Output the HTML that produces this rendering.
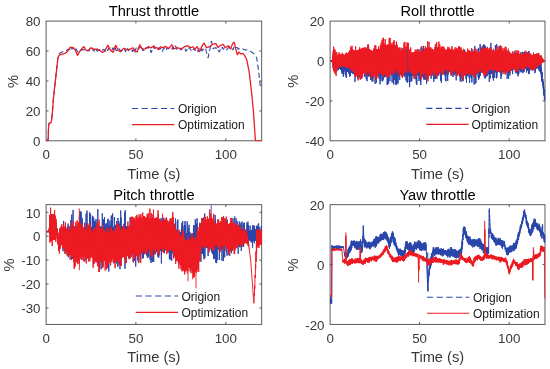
<!DOCTYPE html>
<html><head><meta charset="utf-8"><title>Throttle comparison</title>
<style>
html,body{margin:0;padding:0;background:#fff;}
svg{display:block;}
text{font-family:"Liberation Sans",Arial,Helvetica,sans-serif;}
.tk{font-size:13.33px;fill:#383838;}
.lg{font-size:12px;fill:#1a1a1a;}
.tt{font-size:14.67px;fill:#000;}
.lb{font-size:14.67px;fill:#383838;}
</style></head><body>
<svg width="550" height="369" viewBox="0 0 550 369">
<rect width="550" height="369" fill="#fff"/>
<clipPath id="c1"><rect x="46.1" y="20.6" width="216.2" height="120.7"/></clipPath>
<path d="M135.9,140.8v-2.4M135.9,21.1v2.4M225.8,140.8v-2.4M225.8,21.1v2.4M46.1,110.9h2.4M261.7,110.9h-2.4M46.1,81.0h2.4M261.7,81.0h-2.4M46.1,51.0h2.4M261.7,51.0h-2.4" stroke="#4a4a4a" stroke-width="0.9" fill="none"/>
<rect x="46.1" y="21.1" width="215.6" height="119.7" fill="none" stroke="#4a4a4a" stroke-width="0.9"/>
<text x="46.1" y="159.4" text-anchor="middle" class="tk">0</text>
<text x="135.9" y="159.4" text-anchor="middle" class="tk">50</text>
<text x="225.8" y="159.4" text-anchor="middle" class="tk">100</text>
<text x="40.5" y="146.0" text-anchor="end" class="tk">0</text>
<text x="40.5" y="116.1" text-anchor="end" class="tk">20</text>
<text x="40.5" y="86.2" text-anchor="end" class="tk">40</text>
<text x="40.5" y="56.2" text-anchor="end" class="tk">60</text>
<text x="40.5" y="26.3" text-anchor="end" class="tk">80</text>
<text x="153.9" y="16.1" text-anchor="middle" class="tt">Thrust throttle</text>
<text x="153.9" y="178.8" text-anchor="middle" class="lb">Time (s)</text>
<text transform="translate(18.2,81.4) rotate(-90)" text-anchor="middle" class="lb">%</text>
<path d="M46.10,140.80L46.25,140.80L46.40,140.80L46.55,140.80L46.70,140.80L46.85,140.80L47.00,140.80L47.15,140.80L47.30,140.80L47.45,140.80L47.60,140.80L47.75,140.80L47.90,140.71L48.05,139.95L48.20,137.70L48.35,133.75L48.50,129.22L48.65,125.78L48.80,124.08L48.94,123.57L49.09,123.43L49.24,123.28L49.39,123.14L49.54,123.00L49.69,122.89L49.84,122.82L49.99,122.78L50.14,122.75L50.29,122.72L50.44,122.69L50.59,122.66L50.74,122.63L50.89,122.57L51.04,122.37L51.19,121.91L51.34,121.17L51.49,120.27L51.64,119.32L51.79,118.34L51.94,117.21L52.09,115.80L52.24,114.08L52.39,112.18L52.54,110.24L52.69,108.29L52.84,106.34L52.99,104.39L53.14,102.44L53.29,100.53L53.44,98.74L53.59,97.12L53.74,95.64L53.89,94.23L54.04,92.83L54.19,91.44L54.33,90.06L54.48,88.69L54.63,87.33L54.78,85.96L54.93,84.60L55.08,83.23L55.23,81.86L55.38,80.50L55.53,79.13L55.68,77.77L55.83,76.40L55.98,75.04L56.13,73.67L56.28,72.31L56.43,70.94L56.58,69.57L56.73,68.21L56.88,66.84L57.03,65.48L57.18,64.11L57.33,62.75L57.48,61.38L57.63,60.01L57.78,58.71L57.93,57.62L58.08,56.82L58.23,56.28L58.38,55.85L58.53,55.43L58.68,55.02L58.83,54.61L58.98,54.26L59.13,53.99L59.28,53.80L59.43,53.65L59.58,53.51L59.72,53.37L59.87,53.23L60.02,53.09L60.17,52.95L60.32,52.82L60.47,52.71L60.62,52.62L60.77,52.56L60.92,52.50L61.07,52.45L61.22,52.39L61.37,52.33L61.52,52.28L61.67,52.22L61.82,52.17L61.97,52.11L62.12,52.05L62.27,52.00L62.42,51.94L62.57,51.89L62.72,51.83L62.87,51.77L63.02,51.72L63.17,51.66L63.32,51.60L63.47,51.55L63.62,51.49L63.77,51.44L63.92,51.38L64.07,51.32L64.22,51.26L64.37,51.19L64.52,51.13L64.67,51.07L64.82,51.02L64.97,50.96L65.11,50.90L65.26,50.84L65.41,50.79L65.56,50.73L65.71,50.66L65.86,50.60L66.01,50.57L66.16,50.57L66.31,50.58L66.46,50.59L66.61,50.56L66.76,50.47L66.91,50.33L67.06,50.15L67.21,49.95L67.36,49.75L67.51,49.58L67.66,49.47L67.81,49.40L67.96,49.39L68.11,49.45L68.26,49.54L68.41,49.63L68.56,49.68L68.71,49.71L68.86,49.72L69.01,49.73L69.16,49.72L69.31,49.67L69.46,49.59L69.61,49.50L69.76,49.37L69.91,49.20L70.06,48.93L70.21,48.51L70.36,48.00L70.50,47.51L70.65,47.15L70.80,46.96L70.95,46.93L71.10,47.02L71.25,47.27L71.40,47.69L71.55,48.14L71.70,48.55L71.85,48.87L72.00,49.05L72.15,49.08L72.30,48.99L72.45,48.84L72.60,48.59L72.75,48.22L72.90,47.82L73.05,47.53L73.20,47.44L73.35,47.58L73.50,47.94L73.65,48.48L73.80,49.05L73.95,49.47L74.10,49.78L74.25,50.02L74.40,50.21L74.55,50.31L74.70,50.35L74.85,50.38L75.00,50.43L75.15,50.44L75.30,50.30L75.45,50.00L75.60,49.60L75.75,49.19L75.89,48.90L76.04,48.87L76.19,49.08L76.34,49.40L76.49,49.78L76.64,50.15L76.79,50.47L76.94,50.72L77.09,50.89L77.24,50.98L77.39,51.10L77.54,51.31L77.69,51.58L77.84,51.86L77.99,52.11L78.14,52.27L78.29,52.30L78.44,52.20L78.59,51.95L78.74,51.63L78.89,51.35L79.04,51.16L79.19,51.10L79.34,51.15L79.49,51.29L79.64,51.46L79.79,51.56L79.94,51.55L80.09,51.45L80.24,51.31L80.39,51.13L80.54,50.95L80.69,50.81L80.84,50.69L80.99,50.60L81.14,50.54L81.28,50.48L81.43,50.40L81.58,50.28L81.73,50.12L81.88,49.92L82.03,49.79L82.18,49.72L82.33,49.67L82.48,49.64L82.63,49.61L82.78,49.60L82.93,49.60L83.08,49.60L83.23,49.58L83.38,49.55L83.53,49.55L83.68,49.58L83.83,49.63L83.98,49.72L84.13,49.82L84.28,49.91L84.43,50.00L84.58,50.15L84.73,50.36L84.88,50.62L85.03,50.92L85.18,51.21L85.33,51.40L85.48,51.47L85.63,51.43L85.78,51.28L85.93,51.12L86.08,50.97L86.23,50.80L86.38,50.67L86.53,50.59L86.67,50.50L86.82,50.44L86.97,50.43L87.12,50.41L87.27,50.39L87.42,50.38L87.57,50.40L87.72,50.41L87.87,50.42L88.02,50.37L88.17,50.28L88.32,50.27L88.47,50.35L88.62,50.51L88.77,50.73L88.92,50.90L89.07,50.93L89.22,50.82L89.37,50.57L89.52,50.24L89.67,49.88L89.82,49.50L89.97,49.12L90.12,48.84L90.27,48.71L90.42,48.73L90.57,48.87L90.72,49.09L90.87,49.34L91.02,49.56L91.17,49.70L91.32,49.73L91.47,49.62L91.62,49.36L91.77,48.96L91.91,48.54L92.06,48.23L92.21,48.11L92.36,48.18L92.51,48.44L92.66,48.84L92.81,49.34L92.96,49.85L93.11,50.26L93.26,50.52L93.41,50.64L93.56,50.66L93.71,50.61L93.86,50.55L94.01,50.59L94.16,50.70L94.31,50.86L94.46,51.02L94.61,51.08L94.76,50.97L94.91,50.66L95.06,50.24L95.21,49.85L95.36,49.53L95.51,49.31L95.66,49.16L95.81,49.13L95.96,49.23L96.11,49.43L96.26,49.69L96.41,49.95L96.56,50.23L96.71,50.53L96.86,50.81L97.01,51.01L97.16,51.10L97.31,51.08L97.45,50.97L97.60,50.78L97.75,50.66L97.90,50.62L98.05,50.62L98.20,50.59L98.35,50.54L98.50,50.43L98.65,50.27L98.80,50.09L98.95,49.95L99.10,49.89L99.25,49.86L99.40,49.85L99.55,49.86L99.70,49.94L99.85,49.99L100.00,49.94L100.15,49.84L100.30,49.77L100.45,49.73L100.60,49.66L100.75,49.57L100.90,49.51L101.05,49.50L101.20,49.52L101.35,49.68L101.50,49.98L101.65,50.29L101.80,50.56L101.95,50.76L102.10,50.88L102.25,50.85L102.40,50.62L102.55,50.26L102.69,49.88L102.84,49.62L102.99,49.47L103.14,49.46L103.29,49.55L103.44,49.68L103.59,49.78L103.74,49.83L103.89,49.82L104.04,49.75L104.19,49.66L104.34,49.64L104.49,49.75L104.64,49.98L104.79,50.28L104.94,50.57L105.09,50.78L105.24,50.94L105.39,51.06L105.54,51.08L105.69,50.96L105.84,50.79L105.99,50.56L106.14,50.27L106.29,49.92L106.44,49.53L106.59,49.19L106.74,49.02L106.89,49.03L107.04,49.25L107.19,49.64L107.34,50.06L107.49,50.37L107.64,50.52L107.79,50.47L107.94,50.18L108.08,49.73L108.23,49.23L108.38,48.82L108.53,48.55L108.68,48.37L108.83,48.29L108.98,48.29L109.13,48.34L109.28,48.40L109.43,48.42L109.58,48.40L109.73,48.34L109.88,48.23L110.03,48.07L110.18,47.92L110.33,47.82L110.48,47.80L110.63,47.87L110.78,48.07L110.93,48.42L111.08,48.92L111.23,49.50L111.38,50.05L111.53,50.42L111.68,50.55L111.83,50.40L111.98,50.05L112.13,49.63L112.28,49.21L112.43,48.78L112.58,48.37L112.73,48.07L112.88,47.92L113.03,47.93L113.18,48.08L113.33,48.36L113.47,48.72L113.62,49.11L113.77,49.46L113.92,49.73L114.07,49.77L114.22,49.55L114.37,49.07L114.52,48.46L114.67,47.91L114.82,47.54L114.97,47.42L115.12,47.58L115.27,47.94L115.42,48.43L115.57,48.92L115.72,49.38L115.87,49.77L116.02,50.09L116.17,50.37L116.32,50.58L116.47,50.69L116.62,50.73L116.77,50.66L116.92,50.51L117.07,50.32L117.22,50.11L117.37,49.89L117.52,49.66L117.67,49.40L117.82,49.10L117.97,48.78L118.12,48.39L118.27,47.97L118.42,47.64L118.57,47.52L118.72,47.67L118.87,48.05L119.01,48.55L119.16,49.03L119.31,49.41L119.46,49.64L119.61,49.75L119.76,49.81L119.91,49.88L120.06,49.99L120.21,50.14L120.36,50.32L120.51,50.52L120.66,50.70L120.81,50.82L120.96,50.86L121.11,50.86L121.26,50.79L121.41,50.64L121.56,50.48L121.71,50.33L121.86,50.15L122.01,49.99L122.16,49.87L122.31,49.88L122.46,50.01L122.61,50.14L122.76,50.18L122.91,50.12L123.06,49.98L123.21,49.75L123.36,49.51L123.51,49.35L123.66,49.17L123.81,48.93L123.96,48.71L124.11,48.54L124.25,48.40L124.40,48.36L124.55,48.54L124.70,48.95L124.85,49.58L125.00,50.28L125.15,50.89L125.30,51.36L125.45,51.59L125.60,51.46L125.75,51.03L125.90,50.36L126.05,49.56L126.20,48.79L126.35,48.21L126.50,47.85L126.65,47.72L126.80,47.75L126.95,47.89L127.10,48.13L127.25,48.46L127.40,48.77L127.55,48.99L127.70,49.16L127.85,49.37L128.00,49.67L128.15,50.06L128.30,50.41L128.45,50.63L128.60,50.63L128.75,50.44L128.90,50.12L129.05,49.77L129.20,49.46L129.35,49.18L129.50,48.98L129.65,48.88L129.79,48.90L129.94,48.98L130.09,49.04L130.24,49.01L130.39,48.98L130.54,49.03L130.69,49.14L130.84,49.21L130.99,49.22L131.14,49.11L131.29,48.97L131.44,48.93L131.59,49.14L131.74,49.57L131.89,50.13L132.04,50.67L132.19,51.11L132.34,51.40L132.49,51.41L132.64,51.12L132.79,50.64L132.94,50.12L133.09,49.78L133.24,49.79L133.39,50.12L133.54,50.68L133.69,51.37L133.84,52.03L133.99,52.56L134.14,52.96L134.29,53.18L134.44,53.22L134.59,53.07L134.74,52.68L134.89,52.17L135.03,51.68L135.18,51.22L135.33,50.74L135.48,50.24L135.63,49.73L135.78,49.18L135.93,48.65L136.08,48.18L136.23,47.85L136.38,47.72L136.53,47.74L136.68,47.92L136.83,48.28L136.98,48.75L137.13,49.21L137.28,49.55L137.43,49.73L137.58,49.77L137.73,49.63L137.88,49.36L138.03,49.01L138.18,48.58L138.33,48.10L138.48,47.64L138.63,47.36L138.78,47.35L138.93,47.57L139.08,47.88L139.23,48.08L139.38,48.12L139.53,48.02L139.68,47.76L139.83,47.45L139.98,47.22L140.13,47.15L140.28,47.32L140.43,47.72L140.57,48.29L140.72,48.85L140.87,49.27L141.02,49.45L141.17,49.39L141.32,49.18L141.47,48.88L141.62,48.50L141.77,48.22L141.92,48.14L142.07,48.31L142.22,48.74L142.37,49.33L142.52,49.90L142.67,50.31L142.82,50.52L142.97,50.55L143.12,50.40L143.27,50.15L143.42,49.90L143.57,49.76L143.72,49.76L143.87,49.85L144.02,50.00L144.17,50.14L144.32,50.23L144.47,50.27L144.62,50.34L144.77,50.46L144.92,50.50L145.07,50.37L145.22,50.04L145.37,49.52L145.52,48.90L145.67,48.30L145.81,47.83L145.96,47.61L146.11,47.62L146.26,47.78L146.41,48.00L146.56,48.22L146.71,48.33L146.86,48.28L147.01,48.12L147.16,47.93L147.31,47.78L147.46,47.74L147.61,47.73L147.76,47.66L147.91,47.56L148.06,47.42L148.21,47.27L148.36,47.20L148.51,47.32L148.66,47.62L148.81,48.01L148.96,48.38L149.11,48.64L149.26,48.73L149.41,48.63L149.56,48.41L149.71,48.25L149.86,48.28L150.01,48.52L150.16,48.94L150.31,49.57L150.46,50.38L150.61,51.17L150.76,51.80L150.91,52.20L151.06,52.36L151.20,52.35L151.35,52.18L151.50,51.86L151.65,51.42L151.80,50.78L151.95,49.99L152.10,49.18L152.25,48.48L152.40,47.98L152.55,47.66L152.70,47.52L152.85,47.57L153.00,47.76L153.15,47.94L153.30,47.97L153.45,47.82L153.60,47.54L153.75,47.22L153.90,47.04L154.05,47.11L154.20,47.41L154.35,47.82L154.50,48.18L154.65,48.36L154.80,48.33L154.95,48.11L155.10,47.82L155.25,47.58L155.40,47.46L155.55,47.51L155.70,47.74L155.85,48.08L156.00,48.48L156.15,48.84L156.30,49.10L156.45,49.29L156.59,49.43L156.74,49.48L156.89,49.40L157.04,49.15L157.19,48.77L157.34,48.35L157.49,48.05L157.64,47.91L157.79,47.92L157.94,48.00L158.09,48.10L158.24,48.22L158.39,48.30L158.54,48.34L158.69,48.34L158.84,48.36L158.99,48.43L159.14,48.60L159.29,48.82L159.44,49.02L159.59,49.18L159.74,49.26L159.89,49.24L160.04,49.14L160.19,48.96L160.34,48.78L160.49,48.65L160.64,48.53L160.79,48.42L160.94,48.40L161.09,48.50L161.24,48.74L161.39,49.10L161.54,49.58L161.69,50.09L161.84,50.59L161.98,51.07L162.13,51.46L162.28,51.66L162.43,51.56L162.58,51.18L162.73,50.65L162.88,50.15L163.03,49.74L163.18,49.43L163.33,49.21L163.48,49.08L163.63,49.01L163.78,48.98L163.93,48.88L164.08,48.61L164.23,48.22L164.38,47.85L164.53,47.64L164.68,47.66L164.83,47.82L164.98,48.05L165.13,48.30L165.28,48.61L165.43,49.05L165.58,49.55L165.73,49.95L165.88,50.15L166.03,50.15L166.18,50.04L166.33,49.81L166.48,49.44L166.63,48.97L166.78,48.48L166.93,48.09L167.08,47.86L167.23,47.81L167.38,47.90L167.52,48.04L167.67,48.19L167.82,48.37L167.97,48.54L168.12,48.65L168.27,48.67L168.42,48.69L168.57,48.68L168.72,48.60L168.87,48.47L169.02,48.32L169.17,48.16L169.32,48.02L169.47,47.91L169.62,47.86L169.77,47.90L169.92,47.97L170.07,48.02L170.22,48.07L170.37,48.17L170.52,48.30L170.67,48.48L170.82,48.71L170.97,48.96L171.12,49.22L171.27,49.43L171.42,49.55L171.57,49.54L171.72,49.34L171.87,48.90L172.02,48.35L172.17,47.88L172.32,47.62L172.47,47.65L172.62,47.93L172.77,48.34L172.91,48.73L173.06,48.97L173.21,49.00L173.36,48.84L173.51,48.48L173.66,47.96L173.81,47.39L173.96,46.85L174.11,46.35L174.26,45.94L174.41,45.66L174.56,45.44L174.71,45.31L174.86,45.32L175.01,45.49L175.16,45.76L175.31,46.05L175.46,46.24L175.61,46.34L175.76,46.44L175.91,46.58L176.06,46.85L176.21,47.28L176.36,47.78L176.51,48.29L176.66,48.74L176.81,49.07L176.96,49.20L177.11,49.18L177.26,49.06L177.41,48.90L177.56,48.84L177.71,48.85L177.86,48.83L178.01,48.69L178.16,48.46L178.30,48.16L178.45,47.81L178.60,47.49L178.75,47.28L178.90,47.29L179.05,47.47L179.20,47.69L179.35,47.91L179.50,48.14L179.65,48.36L179.80,48.56L179.95,48.81L180.10,49.11L180.25,49.40L180.40,49.64L180.55,49.79L180.70,49.81L180.85,49.71L181.00,49.53L181.15,49.35L181.30,49.25L181.45,49.23L181.60,49.24L181.75,49.19L181.90,49.11L182.05,48.98L182.20,48.78L182.35,48.56L182.50,48.38L182.65,48.37L182.80,48.54L182.95,48.75L183.10,48.94L183.25,49.01L183.40,48.99L183.54,48.93L183.69,48.82L183.84,48.71L183.99,48.57L184.14,48.36L184.29,48.18L184.44,48.09L184.59,48.08L184.74,48.15L184.89,48.34L185.04,48.67L185.19,49.16L185.34,49.76L185.49,50.36L185.64,50.77L185.79,51.01L185.94,51.09L186.09,51.02L186.24,50.86L186.39,50.67L186.54,50.45L186.69,50.21L186.84,49.97L186.99,49.70L187.14,49.35L187.29,48.91L187.44,48.47L187.59,48.19L187.74,48.14L187.89,48.30L188.04,48.59L188.19,48.94L188.34,49.20L188.49,49.24L188.64,49.03L188.79,48.64L188.93,48.15L189.08,47.71L189.23,47.45L189.38,47.42L189.53,47.56L189.68,47.79L189.83,48.09L189.98,48.43L190.13,48.75L190.28,49.04L190.43,49.30L190.58,49.55L190.73,49.78L190.88,50.02L191.03,50.25L191.18,50.36L191.33,50.31L191.48,50.09L191.63,49.71L191.78,49.22L191.93,48.76L192.08,48.45L192.23,48.35L192.38,48.45L192.53,48.67L192.68,48.93L192.83,49.16L192.98,49.30L193.13,49.38L193.28,49.39L193.43,49.30L193.58,49.09L193.73,48.87L193.88,48.74L194.03,48.68L194.18,48.66L194.32,48.75L194.47,48.98L194.62,49.34L194.77,49.81L194.92,50.26L195.07,50.56L195.22,50.56L195.37,50.27L195.52,49.83L195.67,49.44L195.82,49.16L195.97,49.01L196.12,49.01L196.27,49.13L196.42,49.28L196.57,49.35L196.72,49.31L196.87,49.26L197.02,49.31L197.17,49.54L197.32,49.96L197.47,50.51L197.62,51.04L197.77,51.38L197.92,51.47L198.07,51.27L198.22,50.79L198.37,50.14L198.52,49.47L198.67,48.94L198.82,48.66L198.97,48.62L199.12,48.71L199.27,48.83L199.42,48.92L199.57,49.00L199.72,49.00L199.86,48.84L200.01,48.61L200.16,48.39L200.31,48.15L200.46,47.95L200.61,47.84L200.76,47.83L200.91,47.91L201.06,48.12L201.21,48.51L201.36,49.07L201.51,49.76L201.66,50.36L201.81,50.73L201.96,50.85L202.11,50.67L202.26,50.25L202.41,49.77L202.56,49.38L202.71,49.15L202.86,49.08L203.01,49.16L203.16,49.33L203.31,49.56L203.46,49.75L203.61,49.75L203.76,49.59L203.91,49.34L204.06,49.06L204.21,48.81L204.36,48.79L204.51,48.84L204.66,48.84L204.81,48.71L204.96,48.49L205.10,48.30L205.25,48.24L205.40,48.29L205.55,48.44L205.70,48.75L205.85,49.29L206.00,50.02L206.15,50.75L206.30,51.48L206.45,52.13L206.60,52.66L206.75,53.12L206.90,53.57L207.05,54.05L207.20,54.59L207.35,55.16L207.50,55.76L207.65,56.41L207.80,57.05L207.95,57.54L208.10,57.68L208.25,57.30L208.40,56.44L208.55,55.33L208.70,54.24L208.85,53.28L209.00,52.47L209.15,51.83L209.30,51.32L209.45,50.86L209.60,50.39L209.75,49.82L209.90,49.17L210.05,48.47L210.20,47.67L210.35,46.81L210.49,45.90L210.64,44.95L210.79,43.99L210.94,43.08L211.09,42.25L211.24,41.61L211.39,41.38L211.54,41.60L211.69,42.18L211.84,42.87L211.99,43.52L212.14,44.20L212.29,44.96L212.44,45.81L212.59,46.74L212.74,47.60L212.89,48.25L213.04,48.61L213.19,48.69L213.34,48.60L213.49,48.45L213.64,48.32L213.79,48.19L213.94,48.08L214.09,48.02L214.24,47.97L214.39,47.94L214.54,47.96L214.69,48.00L214.84,48.04L214.99,48.07L215.14,48.07L215.29,48.03L215.44,47.91L215.59,47.76L215.74,47.67L215.88,47.68L216.03,47.86L216.18,48.21L216.33,48.63L216.48,49.03L216.63,49.32L216.78,49.48L216.93,49.51L217.08,49.40L217.23,49.19L217.38,49.00L217.53,48.89L217.68,48.91L217.83,49.11L217.98,49.46L218.13,49.89L218.28,50.34L218.43,50.75L218.58,51.09L218.73,51.33L218.88,51.52L219.03,51.64L219.18,51.72L219.33,51.77L219.48,51.74L219.63,51.55L219.78,51.17L219.93,50.54L220.08,49.75L220.23,48.92L220.38,48.22L220.53,47.76L220.68,47.58L220.83,47.67L220.98,47.92L221.13,48.21L221.27,48.44L221.42,48.56L221.57,48.55L221.72,48.42L221.87,48.13L222.02,47.73L222.17,47.39L222.32,47.22L222.47,47.27L222.62,47.53L222.77,47.93L222.92,48.31L223.07,48.61L223.22,48.87L223.37,49.06L223.52,49.14L223.67,49.10L223.82,48.96L223.97,48.79L224.12,48.59L224.27,48.40L224.42,48.28L224.57,48.26L224.72,48.30L224.87,48.42L225.02,48.67L225.17,49.00L225.32,49.36L225.47,49.71L225.62,50.00L225.77,50.15L225.92,50.16L226.07,50.09L226.22,50.01L226.37,49.95L226.52,49.89L226.66,49.76L226.81,49.58L226.96,49.41L227.11,49.30L227.26,49.24L227.41,49.15L227.56,48.97L227.71,48.73L227.86,48.48L228.01,48.23L228.16,47.99L228.31,47.77L228.46,47.52L228.61,47.28L228.76,47.10L228.91,47.04L229.06,47.05L229.21,47.05L229.36,46.97L229.51,46.88L229.66,46.82L229.81,46.79L229.96,46.88L230.11,47.10L230.26,47.40L230.41,47.78L230.56,48.20L230.71,48.57L230.86,48.84L231.01,48.97L231.16,48.95L231.31,48.84L231.46,48.74L231.61,48.69L231.76,48.68L231.91,48.71L232.06,48.77L232.20,48.88L232.35,49.06L232.50,49.28L232.65,49.51L232.80,49.69L232.95,49.72L233.10,49.59L233.25,49.31L233.40,48.89L233.55,48.37L233.70,47.81L233.85,47.26L234.00,46.83L234.15,46.56L234.30,46.49L234.45,46.62L234.60,46.90L234.75,47.26L234.90,47.64L235.05,47.98L235.20,48.18L235.35,48.24L235.50,48.17L235.65,48.03L235.80,47.88L235.95,47.75L236.10,47.65L236.25,47.61L236.40,47.59L236.55,47.56L236.70,47.55L236.85,47.54L237.00,47.53L237.15,47.56L237.30,47.65L237.44,47.82L237.59,48.09L237.74,48.43L237.89,48.77L238.04,49.05L238.19,49.24L238.34,49.30L238.49,49.26L238.64,49.15L238.79,48.98L238.94,48.80L239.09,48.66L239.24,48.59L239.39,48.59L239.54,48.61L239.69,48.61L239.84,48.58L239.99,48.54L240.14,48.53L240.29,48.54L240.44,48.58L240.59,48.63L240.74,48.69L240.89,48.78L241.04,48.89L241.19,49.01L241.34,49.10L241.49,49.15L241.64,49.16L241.79,49.13L241.94,49.08L242.09,49.03L242.24,48.97L242.39,48.91L242.54,48.89L242.69,48.91L242.83,48.97L242.98,49.07L243.13,49.18L243.28,49.29L243.43,49.41L243.58,49.52L243.73,49.62L243.88,49.71L244.03,49.75L244.18,49.76L244.33,49.74L244.48,49.70L244.63,49.67L244.78,49.65L244.93,49.66L245.08,49.72L245.23,49.82L245.38,49.93L245.53,50.01L245.68,50.06L245.83,50.07L245.98,50.05L246.13,50.01L246.28,49.97L246.43,49.95L246.58,49.96L246.73,49.98L246.88,50.02L247.03,50.06L247.18,50.10L247.33,50.13L247.48,50.15L247.63,50.18L247.78,50.20L247.93,50.23L248.08,50.26L248.22,50.30L248.37,50.36L248.52,50.43L248.67,50.50L248.82,50.58L248.97,50.65L249.12,50.73L249.27,50.80L249.42,50.88L249.57,50.95L249.72,51.02L249.87,51.10L250.02,51.17L250.17,51.25L250.32,51.32L250.47,51.40L250.62,51.47L250.77,51.55L250.92,51.62L251.07,51.70L251.22,51.77L251.37,51.85L251.52,51.92L251.67,52.00L251.82,52.10L251.97,52.21L252.12,52.34L252.27,52.48L252.42,52.61L252.57,52.74L252.72,52.88L252.87,53.01L253.02,53.15L253.17,53.28L253.32,53.42L253.47,53.55L253.61,53.68L253.76,53.82L253.91,53.95L254.06,54.10L254.21,54.28L254.36,54.47L254.51,54.68L254.66,54.89L254.81,55.11L254.96,55.32L255.11,55.54L255.26,55.75L255.41,55.96L255.56,56.18L255.71,56.39L255.86,56.60L256.01,56.82L256.16,57.03L256.31,57.25L256.46,57.50L256.61,57.89L256.76,58.53L256.91,59.38L257.06,60.35L257.21,61.35L257.36,62.35L257.51,63.34L257.66,64.34L257.81,65.34L257.96,66.34L258.11,67.35L258.26,68.43L258.41,69.61L258.56,70.86L258.71,72.15L258.86,73.44L259.00,74.73L259.15,76.03L259.30,77.32L259.45,78.61L259.60,79.90L259.75,81.19L259.90,82.49L260.05,83.76L260.20,84.95L260.35,85.95L260.50,86.61" fill="none" stroke="#2b47ab" stroke-width="1.1" stroke-linejoin="round" stroke-dasharray="5.2,3" clip-path="url(#c1)"/>
<path d="M46.10,140.80L46.25,140.80L46.40,140.80L46.55,140.80L46.70,140.80L46.85,140.80L47.00,140.80L47.15,140.80L47.30,140.80L47.45,140.80L47.60,140.80L47.75,140.80L47.90,140.71L48.05,139.95L48.20,137.70L48.35,133.75L48.50,129.22L48.65,125.78L48.80,124.08L48.94,123.57L49.09,123.43L49.24,123.28L49.39,123.14L49.54,123.00L49.69,122.89L49.84,122.82L49.99,122.78L50.14,122.75L50.29,122.72L50.44,122.69L50.59,122.66L50.74,122.63L50.89,122.57L51.04,122.37L51.19,121.91L51.34,121.17L51.49,120.27L51.64,119.32L51.79,118.34L51.94,117.21L52.09,115.80L52.24,114.08L52.39,112.18L52.54,110.24L52.69,108.29L52.84,106.34L52.99,104.39L53.14,102.44L53.29,100.53L53.44,98.74L53.59,97.12L53.74,95.64L53.89,94.23L54.04,92.83L54.19,91.45L54.33,90.09L54.48,88.74L54.63,87.40L54.78,86.06L54.93,84.71L55.08,83.37L55.23,82.03L55.38,80.69L55.53,79.35L55.68,78.00L55.83,76.66L55.98,75.32L56.13,73.98L56.28,72.64L56.43,71.30L56.58,69.95L56.73,68.61L56.88,67.27L57.03,65.93L57.18,64.59L57.33,63.24L57.48,61.90L57.63,60.56L57.78,59.29L57.93,58.24L58.08,57.53L58.23,57.10L58.38,56.79L58.53,56.50L58.68,56.21L58.83,55.93L58.98,55.69L59.13,55.51L59.28,55.38L59.43,55.29L59.58,55.20L59.72,55.11L59.87,55.02L60.02,54.94L60.17,54.85L60.32,54.76L60.47,54.68L60.62,54.59L60.77,54.52L60.92,54.46L61.07,54.41L61.22,54.38L61.37,54.34L61.52,54.31L61.67,54.27L61.82,54.24L61.97,54.20L62.12,54.17L62.27,54.13L62.42,54.10L62.57,54.06L62.72,54.03L62.87,54.00L63.02,53.96L63.17,53.93L63.32,53.89L63.47,53.86L63.62,53.82L63.77,53.79L63.92,53.75L64.07,53.70L64.22,53.63L64.37,53.54L64.52,53.45L64.67,53.37L64.82,53.28L64.97,53.19L65.11,53.10L65.26,53.01L65.41,52.93L65.56,52.84L65.71,52.75L65.86,52.66L66.01,52.57L66.16,52.49L66.31,52.40L66.46,52.31L66.61,52.22L66.76,52.13L66.91,52.04L67.06,51.92L67.21,51.75L67.36,51.54L67.51,51.31L67.66,51.08L67.81,50.84L67.96,50.61L68.11,50.37L68.26,50.14L68.41,49.90L68.56,49.67L68.71,49.43L68.86,49.20L69.01,48.97L69.16,48.73L69.31,48.50L69.46,48.26L69.61,48.03L69.76,47.79L69.91,47.56L70.06,47.36L70.21,47.23L70.36,47.19L70.50,47.20L70.65,47.22L70.80,47.25L70.95,47.28L71.10,47.31L71.25,47.33L71.40,47.36L71.55,47.39L71.70,47.42L71.85,47.45L72.00,47.47L72.15,47.50L72.30,47.53L72.45,47.56L72.60,47.58L72.75,47.61L72.90,47.64L73.05,47.67L73.20,47.70L73.35,47.76L73.50,47.87L73.65,48.02L73.80,48.19L73.95,48.36L74.10,48.54L74.25,48.71L74.40,48.89L74.55,49.06L74.70,49.23L74.85,49.41L75.00,49.59L75.15,49.81L75.30,50.09L75.45,50.42L75.60,50.78L75.75,51.14L75.89,51.50L76.04,51.87L76.19,52.23L76.34,52.60L76.49,52.96L76.64,53.33L76.79,53.69L76.94,54.06L77.09,54.42L77.24,54.78L77.39,55.09L77.54,55.24L77.69,55.17L77.84,54.94L77.99,54.65L78.14,54.36L78.29,54.08L78.44,53.79L78.59,53.50L78.74,53.21L78.89,52.92L79.04,52.64L79.19,52.35L79.34,52.06L79.49,51.77L79.64,51.49L79.79,51.22L79.94,50.99L80.09,50.78L80.24,50.60L80.39,50.43L80.54,50.25L80.69,50.08L80.84,49.90L80.99,49.72L81.14,49.55L81.28,49.37L81.43,49.20L81.58,49.02L81.73,48.85L81.88,48.67L82.03,48.49L82.18,48.32L82.33,48.14L82.48,47.97L82.63,47.79L82.78,47.62L82.93,47.44L83.08,47.27L83.23,47.09L83.38,46.91L83.53,46.74L83.68,46.60L83.83,46.58L83.98,46.71L84.13,46.96L84.28,47.25L84.43,47.53L84.58,47.82L84.73,48.11L84.88,48.39L85.03,48.68L85.18,48.97L85.33,49.25L85.48,49.52L85.63,49.74L85.78,49.89L85.93,49.99L86.08,50.08L86.23,50.16L86.38,50.24L86.53,50.33L86.67,50.41L86.82,50.49L86.97,50.58L87.12,50.66L87.27,50.74L87.42,50.83L87.57,50.90L87.72,50.92L87.87,50.87L88.02,50.74L88.17,50.58L88.32,50.41L88.47,50.24L88.62,50.06L88.77,49.89L88.92,49.72L89.07,49.55L89.22,49.38L89.37,49.21L89.52,49.04L89.67,48.86L89.82,48.69L89.97,48.52L90.12,48.35L90.27,48.18L90.42,48.02L90.57,47.89L90.72,47.83L90.87,47.85L91.02,47.91L91.17,47.98L91.32,48.06L91.47,48.13L91.62,48.20L91.77,48.28L91.91,48.35L92.06,48.42L92.21,48.50L92.36,48.57L92.51,48.64L92.66,48.72L92.81,48.79L92.96,48.86L93.11,48.94L93.26,49.01L93.41,49.08L93.56,49.15L93.71,49.20L93.86,49.22L94.01,49.23L94.16,49.23L94.31,49.23L94.46,49.23L94.61,49.23L94.76,49.23L94.91,49.23L95.06,49.23L95.21,49.23L95.36,49.23L95.51,49.23L95.66,49.23L95.81,49.23L95.96,49.23L96.11,49.23L96.26,49.23L96.41,49.23L96.56,49.23L96.71,49.23L96.86,49.23L97.01,49.23L97.16,49.23L97.31,49.23L97.45,49.23L97.60,49.23L97.75,49.25L97.90,49.30L98.05,49.38L98.20,49.47L98.35,49.57L98.50,49.68L98.65,49.78L98.80,49.88L98.95,49.98L99.10,50.08L99.25,50.18L99.40,50.29L99.55,50.39L99.70,50.49L99.85,50.59L100.00,50.69L100.15,50.79L100.30,50.90L100.45,51.00L100.60,51.10L100.75,51.20L100.90,51.30L101.05,51.40L101.20,51.51L101.35,51.61L101.50,51.71L101.65,51.81L101.80,51.91L101.95,52.01L102.10,52.11L102.25,52.22L102.40,52.32L102.55,52.40L102.69,52.44L102.84,52.40L102.99,52.31L103.14,52.21L103.29,52.11L103.44,52.00L103.59,51.90L103.74,51.79L103.89,51.69L104.04,51.59L104.19,51.48L104.34,51.38L104.49,51.27L104.64,51.16L104.79,51.01L104.94,50.81L105.09,50.55L105.24,50.26L105.39,49.97L105.54,49.68L105.69,49.38L105.84,49.09L105.99,48.80L106.14,48.50L106.29,48.21L106.44,47.92L106.59,47.62L106.74,47.33L106.89,47.03L107.04,46.74L107.19,46.45L107.34,46.15L107.49,45.86L107.64,45.58L107.79,45.37L107.94,45.33L108.08,45.48L108.23,45.77L108.38,46.10L108.53,46.44L108.68,46.77L108.83,47.10L108.98,47.43L109.13,47.77L109.28,48.10L109.43,48.43L109.58,48.76L109.73,49.10L109.88,49.42L110.03,49.69L110.18,49.90L110.33,50.06L110.48,50.20L110.63,50.33L110.78,50.46L110.93,50.59L111.08,50.73L111.23,50.86L111.38,50.99L111.53,51.12L111.68,51.25L111.83,51.39L111.98,51.52L112.13,51.65L112.28,51.78L112.43,51.91L112.58,52.05L112.73,52.18L112.88,52.29L113.03,52.32L113.18,52.18L113.33,51.87L113.47,51.45L113.62,51.01L113.77,50.56L113.92,50.12L114.07,49.67L114.22,49.23L114.37,48.78L114.52,48.34L114.67,47.89L114.82,47.44L114.97,47.00L115.12,46.55L115.27,46.11L115.42,45.70L115.57,45.44L115.72,45.41L115.87,45.60L116.02,45.90L116.17,46.24L116.32,46.57L116.47,46.90L116.62,47.23L116.77,47.57L116.92,47.90L117.07,48.23L117.22,48.56L117.37,48.90L117.52,49.23L117.67,49.53L117.82,49.78L117.97,49.95L118.12,50.08L118.27,50.20L118.42,50.32L118.57,50.43L118.72,50.55L118.87,50.67L119.01,50.78L119.16,50.90L119.31,51.02L119.46,51.13L119.61,51.25L119.76,51.36L119.91,51.48L120.06,51.60L120.21,51.71L120.36,51.79L120.51,51.79L120.66,51.70L120.81,51.56L120.96,51.39L121.11,51.22L121.26,51.06L121.41,50.89L121.56,50.73L121.71,50.56L121.86,50.39L122.01,50.23L122.16,50.06L122.31,49.89L122.46,49.73L122.61,49.56L122.76,49.40L122.91,49.23L123.06,49.06L123.21,48.90L123.36,48.73L123.51,48.58L123.66,48.46L123.81,48.42L123.96,48.45L124.11,48.51L124.25,48.58L124.40,48.64L124.55,48.71L124.70,48.78L124.85,48.85L125.00,48.92L125.15,48.98L125.30,49.05L125.45,49.12L125.60,49.18L125.75,49.24L125.90,49.29L126.05,49.33L126.20,49.37L126.35,49.41L126.50,49.45L126.65,49.50L126.80,49.54L126.95,49.58L127.10,49.62L127.25,49.66L127.40,49.70L127.55,49.74L127.70,49.78L127.85,49.79L128.00,49.78L128.15,49.74L128.30,49.70L128.45,49.66L128.60,49.62L128.75,49.58L128.90,49.54L129.05,49.50L129.20,49.45L129.35,49.41L129.50,49.37L129.65,49.33L129.79,49.29L129.94,49.24L130.09,49.18L130.24,49.11L130.39,49.04L130.54,48.97L130.69,48.89L130.84,48.82L130.99,48.75L131.14,48.67L131.29,48.60L131.44,48.53L131.59,48.45L131.74,48.38L131.89,48.31L132.04,48.23L132.19,48.16L132.34,48.09L132.49,48.01L132.64,47.94L132.79,47.87L132.94,47.84L133.09,47.88L133.24,48.03L133.39,48.24L133.54,48.46L133.69,48.69L133.84,48.92L133.99,49.15L134.14,49.38L134.29,49.61L134.44,49.84L134.59,50.06L134.74,50.29L134.89,50.52L135.03,50.74L135.18,50.92L135.33,51.06L135.48,51.14L135.63,51.22L135.78,51.28L135.93,51.35L136.08,51.42L136.23,51.49L136.38,51.56L136.53,51.62L136.68,51.69L136.83,51.76L136.98,51.80L137.13,51.76L137.28,51.58L137.43,51.26L137.58,50.86L137.73,50.46L137.88,50.05L138.03,49.64L138.18,49.23L138.33,48.83L138.48,48.42L138.63,48.01L138.78,47.61L138.93,47.20L139.08,46.79L139.23,46.38L139.38,45.98L139.53,45.57L139.68,45.20L139.83,44.95L139.98,44.92L140.13,45.08L140.28,45.35L140.43,45.64L140.57,45.93L140.72,46.22L140.87,46.51L141.02,46.80L141.17,47.09L141.32,47.38L141.47,47.68L141.62,47.97L141.77,48.25L141.92,48.51L142.07,48.69L142.22,48.80L142.37,48.84L142.52,48.87L142.67,48.89L142.82,48.92L142.97,48.95L143.12,48.97L143.27,49.00L143.42,49.03L143.57,49.05L143.72,49.08L143.87,49.11L144.02,49.13L144.17,49.16L144.32,49.18L144.47,49.19L144.62,49.16L144.77,49.09L144.92,49.00L145.07,48.90L145.22,48.80L145.37,48.70L145.52,48.60L145.67,48.51L145.81,48.41L145.96,48.31L146.11,48.21L146.26,48.12L146.41,48.02L146.56,47.92L146.71,47.82L146.86,47.73L147.01,47.63L147.16,47.53L147.31,47.43L147.46,47.34L147.61,47.24L147.76,47.14L147.91,47.04L148.06,46.95L148.21,46.85L148.36,46.75L148.51,46.67L148.66,46.63L148.81,46.65L148.96,46.73L149.11,46.83L149.26,46.93L149.41,47.03L149.56,47.14L149.71,47.24L149.86,47.35L150.01,47.45L150.16,47.55L150.31,47.66L150.46,47.76L150.61,47.86L150.76,47.92L150.91,47.93L151.06,47.87L151.20,47.77L151.35,47.66L151.50,47.55L151.65,47.44L151.80,47.33L151.95,47.22L152.10,47.11L152.25,47.00L152.40,46.89L152.55,46.78L152.70,46.67L152.85,46.56L153.00,46.45L153.15,46.34L153.30,46.23L153.45,46.12L153.60,46.01L153.75,45.93L153.90,45.93L154.05,46.04L154.20,46.24L154.35,46.47L154.50,46.70L154.65,46.93L154.80,47.15L154.95,47.37L155.10,47.56L155.25,47.69L155.40,47.76L155.55,47.79L155.70,47.81L155.85,47.84L156.00,47.86L156.15,47.88L156.30,47.90L156.45,47.93L156.59,47.95L156.74,47.97L156.89,48.00L157.04,48.06L157.19,48.17L157.34,48.34L157.49,48.55L157.64,48.76L157.79,48.97L157.94,49.19L158.09,49.40L158.24,49.58L158.39,49.64L158.54,49.55L158.69,49.35L158.84,49.11L158.99,48.88L159.14,48.64L159.29,48.40L159.44,48.16L159.59,47.92L159.74,47.69L159.89,47.45L160.04,47.21L160.19,46.99L160.34,46.84L160.49,46.79L160.64,46.82L160.79,46.89L160.94,46.96L161.09,47.03L161.24,47.11L161.39,47.18L161.54,47.25L161.69,47.33L161.84,47.40L161.98,47.47L162.13,47.54L162.28,47.61L162.43,47.66L162.58,47.67L162.73,47.63L162.88,47.57L163.03,47.51L163.18,47.44L163.33,47.38L163.48,47.31L163.63,47.24L163.78,47.18L163.93,47.11L164.08,47.05L164.23,46.98L164.38,46.91L164.53,46.85L164.68,46.78L164.83,46.72L164.98,46.65L165.13,46.58L165.28,46.52L165.43,46.47L165.58,46.45L165.73,46.50L165.88,46.58L166.03,46.68L166.18,46.77L166.33,46.87L166.48,46.97L166.63,47.07L166.78,47.16L166.93,47.26L167.08,47.36L167.23,47.45L167.38,47.55L167.52,47.65L167.67,47.74L167.82,47.84L167.97,47.94L168.12,48.04L168.27,48.13L168.42,48.23L168.57,48.32L168.72,48.36L168.87,48.32L169.02,48.20L169.17,48.02L169.32,47.83L169.47,47.64L169.62,47.45L169.77,47.26L169.92,47.07L170.07,46.88L170.22,46.69L170.37,46.50L170.52,46.31L170.67,46.12L170.82,45.93L170.97,45.74L171.12,45.54L171.27,45.35L171.42,45.16L171.57,44.97L171.72,44.82L171.87,44.79L172.02,44.92L172.17,45.17L172.32,45.46L172.47,45.75L172.62,46.05L172.77,46.34L172.91,46.63L173.06,46.92L173.21,47.21L173.36,47.50L173.51,47.79L173.66,48.08L173.81,48.36L173.96,48.57L174.11,48.68L174.26,48.69L174.41,48.65L174.56,48.60L174.71,48.54L174.86,48.49L175.01,48.44L175.16,48.39L175.31,48.34L175.46,48.29L175.61,48.24L175.76,48.19L175.91,48.13L176.06,48.08L176.21,48.03L176.36,47.98L176.51,47.93L176.66,47.88L176.81,47.83L176.96,47.79L177.11,47.77L177.26,47.78L177.41,47.81L177.56,47.85L177.71,47.89L177.86,47.92L178.01,47.96L178.16,48.00L178.30,48.03L178.45,48.07L178.60,48.10L178.75,48.14L178.90,48.18L179.05,48.21L179.20,48.25L179.35,48.29L179.50,48.32L179.65,48.36L179.80,48.40L179.95,48.43L180.10,48.47L180.25,48.50L180.40,48.54L180.55,48.58L180.70,48.61L180.85,48.65L181.00,48.69L181.15,48.72L181.30,48.73L181.45,48.70L181.60,48.63L181.75,48.53L181.90,48.43L182.05,48.33L182.20,48.23L182.35,48.12L182.50,48.02L182.65,47.92L182.80,47.82L182.95,47.71L183.10,47.61L183.25,47.51L183.40,47.40L183.54,47.30L183.69,47.20L183.84,47.10L183.99,46.99L184.14,46.89L184.29,46.79L184.44,46.71L184.59,46.64L184.74,46.59L184.89,46.54L185.04,46.49L185.19,46.44L185.34,46.39L185.49,46.35L185.64,46.30L185.79,46.25L185.94,46.20L186.09,46.15L186.24,46.10L186.39,46.06L186.54,46.01L186.69,45.96L186.84,45.91L186.99,45.86L187.14,45.81L187.29,45.76L187.44,45.72L187.59,45.70L187.74,45.72L187.89,45.79L188.04,45.88L188.19,45.99L188.34,46.09L188.49,46.19L188.64,46.30L188.79,46.40L188.93,46.50L189.08,46.60L189.23,46.71L189.38,46.81L189.53,46.91L189.68,47.01L189.83,47.12L189.98,47.22L190.13,47.32L190.28,47.43L190.43,47.53L190.58,47.62L190.73,47.66L190.88,47.65L191.03,47.59L191.18,47.52L191.33,47.44L191.48,47.37L191.63,47.30L191.78,47.22L191.93,47.15L192.08,47.08L192.23,47.01L192.38,46.93L192.53,46.86L192.68,46.80L192.83,46.79L192.98,46.86L193.13,47.00L193.28,47.19L193.43,47.38L193.58,47.57L193.73,47.76L193.88,47.96L194.03,48.15L194.18,48.34L194.32,48.54L194.47,48.73L194.62,48.91L194.77,49.03L194.92,49.04L195.07,48.93L195.22,48.76L195.37,48.56L195.52,48.36L195.67,48.16L195.82,47.97L195.97,47.77L196.12,47.57L196.27,47.37L196.42,47.18L196.57,46.98L196.72,46.78L196.87,46.63L197.02,46.61L197.17,46.76L197.32,47.05L197.47,47.38L197.62,47.70L197.77,48.03L197.92,48.36L198.07,48.69L198.22,49.02L198.37,49.35L198.52,49.68L198.67,50.01L198.82,50.34L198.97,50.67L199.12,51.00L199.27,51.32L199.42,51.56L199.57,51.62L199.72,51.46L199.86,51.15L200.01,50.81L200.16,50.46L200.31,50.11L200.46,49.76L200.61,49.41L200.76,49.06L200.91,48.71L201.06,48.36L201.21,48.01L201.36,47.66L201.51,47.31L201.66,46.97L201.81,46.62L201.96,46.27L202.11,45.94L202.26,45.64L202.41,45.38L202.56,45.14L202.71,44.92L202.86,44.70L203.01,44.47L203.16,44.25L203.31,44.02L203.46,43.80L203.61,43.57L203.76,43.36L203.91,43.20L204.06,43.18L204.21,43.32L204.36,43.57L204.51,43.86L204.66,44.14L204.81,44.43L204.96,44.71L205.10,45.00L205.25,45.28L205.40,45.57L205.55,45.85L205.70,46.14L205.85,46.42L206.00,46.71L206.15,46.99L206.30,47.27L206.45,47.49L206.60,47.62L206.75,47.64L206.90,47.61L207.05,47.56L207.20,47.51L207.35,47.46L207.50,47.40L207.65,47.35L207.80,47.30L207.95,47.25L208.10,47.20L208.25,47.15L208.40,47.10L208.55,47.05L208.70,46.99L208.85,46.94L209.00,46.89L209.15,46.84L209.30,46.79L209.45,46.73L209.60,46.66L209.75,46.56L209.90,46.45L210.05,46.33L210.20,46.22L210.35,46.10L210.49,45.98L210.64,45.86L210.79,45.75L210.94,45.63L211.09,45.51L211.24,45.39L211.39,45.28L211.54,45.16L211.69,45.04L211.84,44.93L211.99,44.81L212.14,44.69L212.29,44.57L212.44,44.46L212.59,44.36L212.74,44.29L212.89,44.24L213.04,44.20L213.19,44.17L213.34,44.13L213.49,44.10L213.64,44.06L213.79,44.03L213.94,43.99L214.09,43.96L214.24,43.92L214.39,43.89L214.54,43.86L214.69,43.82L214.84,43.79L214.99,43.75L215.14,43.72L215.29,43.68L215.44,43.65L215.59,43.61L215.74,43.61L215.88,43.68L216.03,43.86L216.18,44.13L216.33,44.42L216.48,44.71L216.63,45.00L216.78,45.29L216.93,45.58L217.08,45.87L217.23,46.16L217.38,46.45L217.53,46.74L217.68,47.03L217.83,47.30L217.98,47.49L218.13,47.54L218.28,47.46L218.43,47.32L218.58,47.16L218.73,47.00L218.88,46.84L219.03,46.69L219.18,46.53L219.33,46.37L219.48,46.21L219.63,46.05L219.78,45.90L219.93,45.75L220.08,45.64L220.23,45.56L220.38,45.49L220.53,45.43L220.68,45.36L220.83,45.30L220.98,45.24L221.13,45.18L221.27,45.11L221.42,45.05L221.57,44.99L221.72,44.93L221.87,44.87L222.02,44.80L222.17,44.74L222.32,44.68L222.47,44.62L222.62,44.55L222.77,44.49L222.92,44.43L223.07,44.39L223.22,44.42L223.37,44.55L223.52,44.77L223.67,45.02L223.82,45.28L223.97,45.54L224.12,45.80L224.27,46.06L224.42,46.33L224.57,46.59L224.72,46.85L224.87,47.11L225.02,47.35L225.17,47.53L225.32,47.60L225.47,47.57L225.62,47.48L225.77,47.38L225.92,47.29L226.07,47.19L226.22,47.09L226.37,47.00L226.52,46.90L226.66,46.80L226.81,46.71L226.96,46.61L227.11,46.51L227.26,46.41L227.41,46.32L227.56,46.22L227.71,46.12L227.86,46.03L228.01,45.93L228.16,45.83L228.31,45.77L228.46,45.79L228.61,45.94L228.76,46.18L228.91,46.45L229.06,46.73L229.21,47.00L229.36,47.27L229.51,47.54L229.66,47.81L229.81,48.09L229.96,48.36L230.11,48.63L230.26,48.86L230.41,48.94L230.56,48.81L230.71,48.51L230.86,48.12L231.01,47.73L231.16,47.33L231.31,46.94L231.46,46.54L231.61,46.15L231.76,45.75L231.91,45.36L232.06,44.97L232.20,44.57L232.35,44.18L232.50,43.84L232.65,43.56L232.80,43.36L232.95,43.21L233.10,43.07L233.25,42.93L233.40,42.80L233.55,42.66L233.70,42.52L233.85,42.38L234.00,42.28L234.15,42.34L234.30,42.65L234.45,43.20L234.60,43.87L234.75,44.57L234.90,45.27L235.05,45.98L235.20,46.68L235.35,47.38L235.50,48.06L235.65,48.71L235.80,49.29L235.95,49.83L236.10,50.35L236.25,50.88L236.40,51.40L236.55,51.92L236.70,52.45L236.85,52.97L237.00,53.49L237.15,54.02L237.30,54.47L237.44,54.71L237.59,54.67L237.74,54.41L237.89,54.08L238.04,53.76L238.19,53.43L238.34,53.10L238.49,52.77L238.64,52.46L238.79,52.22L238.94,52.12L239.09,52.17L239.24,52.30L239.39,52.46L239.54,52.62L239.69,52.78L239.84,52.94L239.99,53.10L240.14,53.26L240.29,53.41L240.44,53.57L240.59,53.73L240.74,53.86L240.89,53.94L241.04,53.95L241.19,53.93L241.34,53.88L241.49,53.84L241.64,53.80L241.79,53.76L241.94,53.72L242.09,53.68L242.24,53.64L242.39,53.59L242.54,53.55L242.69,53.51L242.83,53.49L242.98,53.51L243.13,53.62L243.28,53.79L243.43,53.99L243.58,54.19L243.73,54.40L243.88,54.60L244.03,54.81L244.18,55.01L244.33,55.21L244.48,55.42L244.63,55.62L244.78,55.83L244.93,56.06L245.08,56.31L245.23,56.58L245.38,56.87L245.53,57.16L245.68,57.45L245.83,57.74L245.98,58.03L246.13,58.32L246.28,58.61L246.43,58.93L246.58,59.35L246.73,59.90L246.88,60.56L247.03,61.27L247.18,62.00L247.33,62.72L247.48,63.44L247.63,64.16L247.78,64.88L247.93,65.60L248.08,66.32L248.22,67.05L248.37,67.77L248.52,68.49L248.67,69.21L248.82,69.93L248.97,70.70L249.12,71.61L249.27,72.71L249.42,73.94L249.57,75.23L249.72,76.51L249.87,77.80L250.02,79.09L250.17,80.37L250.32,81.66L250.47,82.94L250.62,84.23L250.77,85.51L250.92,86.80L251.07,88.08L251.22,89.37L251.37,90.70L251.52,92.08L251.67,93.53L251.82,95.01L251.97,96.51L252.12,98.01L252.27,99.50L252.42,101.00L252.57,102.50L252.72,103.99L252.87,105.49L253.02,106.98L253.17,108.49L253.32,110.09L253.47,111.88L253.61,113.92L253.76,116.11L253.91,118.36L254.06,120.60L254.21,122.84L254.36,125.09L254.51,127.33L254.66,129.58L254.81,131.82L254.96,134.07L255.11,136.31L255.26,138.37L255.41,139.86L255.56,140.61L255.71,140.80L255.86,140.80L256.01,140.80L256.16,140.80L256.31,140.80L256.46,140.80L256.61,140.80L256.76,140.80L256.91,140.80L257.06,140.80L257.21,140.80L257.36,140.80L257.51,140.80L257.66,140.80L257.81,140.80L257.96,140.80L258.11,140.80L258.26,140.80L258.41,140.80L258.56,140.80L258.71,140.80L258.86,140.80L259.00,140.80L259.15,140.80L259.30,140.80L259.45,140.80L259.60,140.80L259.75,140.80L259.90,140.80L260.05,140.80L260.20,140.80L260.35,140.80L260.50,140.80L260.65,140.80L260.80,140.80L260.95,140.80L261.10,140.80L261.25,140.80L261.40,140.80L261.55,140.80L261.70,140.80" fill="none" stroke="#ed1c24" stroke-width="1.3" stroke-linejoin="round" clip-path="url(#c1)"/>
<path d="M131.9,108.50h42.4" stroke="#2b47ab" stroke-width="1.1" stroke-dasharray="6.2,3.5" fill="none"/>
<path d="M131.9,124.60h42.4" stroke="#ed1c24" stroke-width="1.1" fill="none"/>
<text x="178.0" y="113.3" class="lg">Origion</text>
<text x="178.0" y="129.4" class="lg">Optimization</text>
<clipPath id="c2"><rect x="330.1" y="20.6" width="215.5" height="120.7"/></clipPath>
<path d="M419.6,140.8v-2.4M419.6,21.1v2.4M509.2,140.8v-2.4M509.2,21.1v2.4M330.1,100.9h2.4M545.0,100.9h-2.4M330.1,61.0h2.4M545.0,61.0h-2.4" stroke="#4a4a4a" stroke-width="0.9" fill="none"/>
<rect x="330.1" y="21.1" width="214.9" height="119.7" fill="none" stroke="#4a4a4a" stroke-width="0.9"/>
<text x="330.1" y="159.3" text-anchor="middle" class="tk">0</text>
<text x="419.6" y="159.3" text-anchor="middle" class="tk">50</text>
<text x="509.2" y="159.3" text-anchor="middle" class="tk">100</text>
<text x="324.5" y="145.9" text-anchor="end" class="tk">-40</text>
<text x="324.5" y="106.1" text-anchor="end" class="tk">-20</text>
<text x="324.5" y="66.2" text-anchor="end" class="tk">0</text>
<text x="324.5" y="26.3" text-anchor="end" class="tk">20</text>
<text x="437.6" y="16.1" text-anchor="middle" class="tt">Roll throttle</text>
<text x="437.6" y="178.8" text-anchor="middle" class="lb">Time (s)</text>
<text transform="translate(298.3,81.3) rotate(-90)" text-anchor="middle" class="lb">%</text>
<path d="M330.1,60.2L330.3,61.5L330.5,60.4L330.8,61.7L331.0,60.8L331.2,61.8L331.4,60.5L331.7,62.2L331.9,61.0L332.1,62.0L332.3,61.1L332.6,62.2L332.8,57.1L333.0,65.6L333.2,53.2L333.5,70.0L333.7,56.6L333.9,69.6L334.1,56.9L334.4,67.7L334.6,57.3L334.8,71.9L335.0,52.9L335.3,70.1L335.5,57.7L335.7,67.9L335.9,57.9L336.1,72.0L336.4,57.7L336.6,68.5L336.8,57.9L337.0,68.8L337.3,58.2L337.5,68.7L337.7,58.2L337.9,70.5L338.2,56.7L338.4,69.5L338.6,56.4L338.8,69.0L339.1,54.8L339.3,68.8L339.5,57.9L339.7,68.9L340.0,57.9L340.2,69.1L340.4,58.2L340.6,70.0L340.8,54.7L341.1,69.6L341.3,58.1L341.5,71.6L341.7,58.4L342.0,73.4L342.2,58.1L342.4,74.0L342.6,57.8L342.9,70.8L343.1,57.8L343.3,76.7L343.5,58.2L343.8,74.7L344.0,59.2L344.2,71.4L344.4,59.4L344.7,70.7L344.9,59.2L345.1,71.0L345.3,59.4L345.6,74.4L345.8,58.2L346.0,77.1L346.2,59.0L346.4,77.7L346.7,58.9L346.9,71.6L347.1,58.9L347.3,71.8L347.6,58.6L347.8,71.7L348.0,58.5L348.2,71.6L348.5,58.5L348.7,73.6L348.9,58.4L349.1,72.0L349.4,58.3L349.6,76.7L349.8,57.7L350.0,73.2L350.3,55.3L350.5,76.0L350.7,57.3L350.9,72.5L351.2,52.9L351.4,72.4L351.6,53.4L351.8,72.6L352.0,55.7L352.3,73.3L352.5,56.9L352.7,73.1L352.9,56.6L353.2,73.9L353.4,56.6L353.6,74.2L353.8,57.0L354.1,73.8L354.3,52.2L354.5,74.3L354.7,57.0L355.0,81.9L355.2,56.8L355.4,75.9L355.6,57.0L355.9,73.4L356.1,51.4L356.3,73.2L356.5,52.9L356.7,73.0L357.0,51.6L357.2,76.5L357.4,53.2L357.6,78.9L357.9,56.8L358.1,72.4L358.3,51.2L358.5,77.3L358.8,54.1L359.0,73.0L359.2,55.7L359.4,77.4L359.7,50.0L359.9,76.7L360.1,55.6L360.3,78.8L360.6,56.0L360.8,78.5L361.0,55.3L361.2,72.9L361.5,55.7L361.7,78.6L361.9,56.0L362.1,77.1L362.3,55.6L362.6,71.6L362.8,55.8L363.0,71.7L363.2,55.9L363.5,72.0L363.7,55.6L363.9,72.0L364.1,55.2L364.4,76.3L364.6,54.5L364.8,76.7L365.0,55.1L365.3,71.4L365.5,55.0L365.7,75.7L365.9,47.4L366.2,79.2L366.4,50.5L366.6,73.5L366.8,54.6L367.1,81.2L367.3,54.6L367.5,74.4L367.7,49.6L367.9,75.6L368.2,54.1L368.4,75.2L368.6,47.4L368.8,76.7L369.1,55.4L369.3,75.2L369.5,52.0L369.7,75.5L370.0,55.1L370.2,75.0L370.4,56.4L370.6,79.8L370.9,56.4L371.1,74.3L371.3,50.7L371.5,79.9L371.8,51.4L372.0,81.4L372.2,51.1L372.4,73.7L372.7,50.8L372.9,81.6L373.1,56.4L373.3,77.8L373.5,52.0L373.8,74.6L374.0,49.5L374.2,75.0L374.4,54.7L374.7,74.5L374.9,55.8L375.1,84.0L375.3,49.0L375.6,76.0L375.8,55.8L376.0,80.6L376.2,54.0L376.5,82.8L376.7,55.5L376.9,75.6L377.1,55.8L377.4,74.9L377.6,55.1L377.8,74.9L378.0,51.4L378.2,75.5L378.5,56.4L378.7,75.0L378.9,56.1L379.1,78.9L379.4,49.9L379.6,75.1L379.8,52.2L380.0,84.4L380.3,56.5L380.5,77.1L380.7,56.5L380.9,80.8L381.2,56.5L381.4,74.4L381.6,57.0L381.8,73.9L382.1,56.7L382.3,81.2L382.5,52.7L382.7,81.3L383.0,56.7L383.2,79.7L383.4,56.3L383.6,76.3L383.8,54.4L384.1,77.6L384.3,51.6L384.5,75.6L384.7,55.8L385.0,76.7L385.2,49.0L385.4,76.9L385.6,55.4L385.9,76.8L386.1,54.5L386.3,76.5L386.5,54.9L386.8,76.8L387.0,55.0L387.2,85.0L387.4,54.8L387.7,84.3L387.9,46.0L388.1,75.9L388.3,54.8L388.6,83.6L388.8,54.1L389.0,74.9L389.2,54.0L389.4,74.8L389.7,53.3L389.9,81.1L390.1,54.2L390.3,74.2L390.6,54.3L390.8,73.7L391.0,54.1L391.2,74.3L391.5,46.4L391.7,74.1L391.9,54.8L392.1,82.6L392.4,49.9L392.6,74.7L392.8,47.7L393.0,75.6L393.3,48.7L393.5,84.3L393.7,53.8L393.9,75.6L394.1,53.8L394.4,80.0L394.6,45.6L394.8,75.8L395.0,45.2L395.3,84.6L395.5,54.2L395.7,79.0L395.9,53.8L396.2,74.7L396.4,46.5L396.6,85.0L396.8,54.6L397.1,74.9L397.3,55.0L397.5,83.2L397.7,47.5L398.0,83.4L398.2,55.1L398.4,75.6L398.6,49.4L398.9,75.9L399.1,54.7L399.3,76.0L399.5,48.8L399.7,80.1L400.0,54.3L400.2,74.9L400.4,53.8L400.6,74.8L400.9,53.6L401.1,74.7L401.3,54.0L401.5,73.8L401.8,55.3L402.0,73.4L402.2,48.2L402.4,74.0L402.7,51.4L402.9,73.6L403.1,55.3L403.3,73.9L403.6,57.0L403.8,75.4L404.0,57.1L404.2,73.8L404.5,57.0L404.7,76.8L404.9,56.4L405.1,74.1L405.3,56.1L405.6,74.6L405.8,50.9L406.0,80.4L406.2,50.1L406.5,80.6L406.7,55.6L406.9,82.2L407.1,48.1L407.4,82.6L407.6,55.9L407.8,74.9L408.0,55.7L408.3,74.8L408.5,51.6L408.7,75.9L408.9,56.5L409.2,81.9L409.4,56.7L409.6,87.1L409.8,56.2L410.0,76.9L410.3,56.7L410.5,77.0L410.7,56.3L410.9,82.0L411.2,55.9L411.4,76.5L411.6,54.7L411.8,81.0L412.1,53.2L412.3,75.5L412.5,54.0L412.7,75.4L413.0,55.0L413.2,75.3L413.4,55.3L413.6,74.5L413.9,52.1L414.1,75.4L414.3,55.5L414.5,74.5L414.8,56.4L415.0,75.7L415.2,56.4L415.4,74.9L415.6,56.3L415.9,79.3L416.1,56.7L416.3,83.3L416.5,55.0L416.8,84.9L417.0,54.3L417.2,75.4L417.4,56.6L417.7,75.2L417.9,49.0L418.1,75.5L418.3,55.7L418.6,75.3L418.8,52.3L419.0,81.1L419.2,55.2L419.5,75.3L419.7,55.4L419.9,79.0L420.1,52.2L420.4,80.8L420.6,54.5L420.8,85.0L421.0,47.4L421.2,75.8L421.5,53.1L421.7,76.4L421.9,54.3L422.1,76.3L422.4,48.7L422.6,76.8L422.8,54.2L423.0,75.7L423.3,54.1L423.5,79.3L423.7,45.9L423.9,75.5L424.2,54.3L424.4,79.7L424.6,52.4L424.8,74.4L425.1,55.4L425.3,74.7L425.5,56.1L425.7,79.7L425.9,55.5L426.2,75.5L426.4,55.4L426.6,83.8L426.8,57.1L427.1,79.6L427.3,57.0L427.5,76.2L427.7,55.2L428.0,77.3L428.2,55.7L428.4,78.2L428.6,57.2L428.9,75.2L429.1,56.6L429.3,74.8L429.5,56.8L429.8,75.0L430.0,56.9L430.2,73.8L430.4,56.3L430.7,76.0L430.9,55.0L431.1,78.9L431.3,56.0L431.5,73.3L431.8,56.4L432.0,72.9L432.2,49.2L432.4,73.1L432.7,51.1L432.9,75.5L433.1,52.4L433.3,73.3L433.6,52.1L433.8,81.9L434.0,51.6L434.2,74.7L434.5,51.9L434.7,79.0L434.9,51.4L435.1,78.7L435.4,54.5L435.6,78.6L435.8,54.1L436.0,73.3L436.3,50.0L436.5,73.1L436.7,55.0L436.9,78.7L437.1,55.0L437.4,72.1L437.6,55.1L437.8,72.3L438.0,55.5L438.3,71.9L438.5,52.8L438.7,75.6L438.9,55.1L439.2,71.8L439.4,53.0L439.6,71.7L439.8,55.6L440.1,72.9L440.3,56.1L440.5,80.8L440.7,48.9L441.0,78.7L441.2,49.0L441.4,82.8L441.6,52.3L441.8,73.7L442.1,51.8L442.3,74.2L442.5,51.0L442.7,74.4L443.0,56.6L443.2,73.9L443.4,56.6L443.6,73.9L443.9,50.8L444.1,74.0L444.3,52.5L444.5,73.3L444.8,55.4L445.0,75.7L445.2,56.8L445.4,80.6L445.7,51.8L445.9,81.3L446.1,55.6L446.3,74.1L446.6,55.1L446.8,73.8L447.0,51.2L447.2,75.5L447.4,56.0L447.7,81.0L447.9,48.6L448.1,74.8L448.3,52.2L448.6,72.5L448.8,49.5L449.0,72.2L449.2,55.3L449.5,71.6L449.7,54.3L449.9,71.9L450.1,55.4L450.4,72.2L450.6,52.6L450.8,72.6L451.0,53.0L451.3,76.0L451.5,55.2L451.7,73.3L451.9,56.1L452.2,73.5L452.4,56.0L452.6,73.0L452.8,54.2L453.0,77.0L453.3,56.6L453.5,73.7L453.7,53.3L453.9,73.7L454.2,56.4L454.4,73.6L454.6,54.7L454.8,75.4L455.1,56.7L455.3,73.9L455.5,55.4L455.7,73.6L456.0,56.0L456.2,80.3L456.4,51.5L456.6,73.8L456.9,56.3L457.1,74.5L457.3,51.1L457.5,74.4L457.8,56.0L458.0,74.3L458.2,55.9L458.4,73.8L458.6,55.4L458.9,73.9L459.1,51.0L459.3,73.8L459.5,55.1L459.8,74.1L460.0,54.3L460.2,81.5L460.4,54.5L460.7,78.9L460.9,55.9L461.1,73.4L461.3,51.7L461.6,73.1L461.8,55.7L462.0,81.6L462.2,55.2L462.5,73.9L462.7,52.7L462.9,81.1L463.1,54.6L463.3,73.8L463.6,56.1L463.8,74.2L464.0,56.1L464.2,73.7L464.5,49.6L464.7,73.7L464.9,55.1L465.1,74.0L465.4,56.5L465.6,74.0L465.8,56.1L466.0,79.0L466.3,56.2L466.5,82.6L466.7,56.7L466.9,74.5L467.2,56.6L467.4,75.3L467.6,57.2L467.8,76.3L468.1,57.2L468.3,73.9L468.5,50.7L468.7,74.5L468.9,56.8L469.2,77.8L469.4,56.6L469.6,82.8L469.8,56.6L470.1,73.9L470.3,55.6L470.5,73.9L470.7,55.8L471.0,77.6L471.2,55.2L471.4,78.0L471.6,54.8L471.9,82.4L472.1,49.3L472.3,74.2L472.5,54.7L472.8,74.6L473.0,54.4L473.2,74.1L473.4,53.9L473.7,76.7L473.9,52.2L474.1,84.6L474.3,49.4L474.5,74.8L474.8,45.9L475.0,75.0L475.2,52.4L475.4,83.7L475.7,54.2L475.9,83.0L476.1,54.0L476.3,74.1L476.6,53.7L476.8,73.3L477.0,53.8L477.2,72.7L477.5,54.2L477.7,72.6L477.9,54.6L478.1,77.2L478.4,47.9L478.6,79.8L478.8,54.1L479.0,72.5L479.2,52.7L479.5,78.2L479.7,53.6L479.9,71.9L480.1,44.2L480.4,75.7L480.6,46.1L480.8,72.0L481.0,53.0L481.3,72.7L481.5,47.8L481.7,71.9L481.9,52.8L482.2,72.0L482.4,47.3L482.6,72.2L482.8,53.4L483.1,72.0L483.3,44.6L483.5,71.6L483.7,53.5L484.0,71.8L484.2,53.4L484.4,77.6L484.6,44.6L484.8,72.0L485.1,54.0L485.3,78.6L485.5,46.1L485.7,72.9L486.0,53.7L486.2,72.3L486.4,53.8L486.6,76.5L486.9,53.5L487.1,75.6L487.3,46.9L487.5,75.4L487.8,49.0L488.0,72.9L488.2,51.7L488.4,74.3L488.7,51.6L488.9,73.4L489.1,51.0L489.3,81.9L489.6,48.1L489.8,73.8L490.0,51.3L490.2,78.5L490.4,51.9L490.7,74.0L490.9,42.9L491.1,73.9L491.3,51.9L491.6,74.0L491.8,51.1L492.0,74.1L492.2,52.9L492.5,73.8L492.7,52.2L492.9,78.1L493.1,52.4L493.4,80.6L493.6,52.8L493.8,73.2L494.0,53.0L494.3,73.1L494.5,52.4L494.7,78.0L494.9,51.8L495.1,72.0L495.4,45.2L495.6,71.7L495.8,46.4L496.0,72.6L496.3,51.2L496.5,78.3L496.7,44.1L496.9,77.7L497.2,50.8L497.4,72.8L497.6,52.5L497.8,71.6L498.1,52.8L498.3,71.9L498.5,53.4L498.7,71.6L499.0,54.5L499.2,72.0L499.4,46.4L499.6,72.4L499.9,54.6L500.1,72.2L500.3,55.8L500.5,72.0L500.7,56.0L501.0,79.0L501.2,48.9L501.4,76.2L501.6,50.6L501.9,74.5L502.1,52.0L502.3,71.5L502.5,56.9L502.8,71.5L503.0,51.1L503.2,71.6L503.4,55.5L503.7,71.6L503.9,57.5L504.1,71.7L504.3,51.5L504.6,71.7L504.8,57.1L505.0,72.0L505.2,56.2L505.5,72.1L505.7,56.1L505.9,73.0L506.1,52.3L506.3,72.0L506.6,55.7L506.8,71.6L507.0,53.5L507.2,78.8L507.5,55.9L507.7,72.1L507.9,54.8L508.1,72.6L508.4,56.1L508.6,78.7L508.8,53.2L509.0,73.2L509.3,57.3L509.5,72.2L509.7,57.4L509.9,75.5L510.2,58.0L510.4,71.5L510.6,56.4L510.8,70.8L511.0,57.7L511.3,70.6L511.5,57.5L511.7,69.9L511.9,57.5L512.2,70.4L512.4,52.8L512.6,74.1L512.8,55.6L513.1,69.0L513.3,53.6L513.5,69.5L513.7,56.7L514.0,69.8L514.2,53.0L514.4,69.0L514.6,51.2L514.9,69.2L515.1,57.1L515.3,69.4L515.5,57.3L515.8,72.5L516.0,57.0L516.2,73.4L516.4,57.1L516.6,70.8L516.9,56.7L517.1,73.2L517.3,53.4L517.5,70.7L517.8,57.3L518.0,76.3L518.2,55.6L518.4,75.2L518.7,57.7L518.9,73.6L519.1,53.8L519.3,69.8L519.6,57.0L519.8,69.2L520.0,57.1L520.2,71.5L520.5,53.8L520.7,69.1L520.9,52.1L521.1,72.4L521.4,57.1L521.6,71.9L521.8,53.9L522.0,68.5L522.2,55.7L522.5,68.7L522.7,51.8L522.9,73.2L523.1,56.8L523.4,72.1L523.6,57.0L523.8,70.5L524.0,56.8L524.3,71.6L524.5,51.6L524.7,68.4L524.9,56.9L525.2,68.2L525.4,57.1L525.6,68.7L525.8,57.0L526.1,68.6L526.3,57.4L526.5,72.5L526.7,57.0L526.9,68.7L527.2,52.2L527.4,70.7L527.6,56.8L527.8,68.9L528.1,53.3L528.3,71.2L528.5,51.1L528.7,74.1L529.0,51.0L529.2,74.0L529.4,53.5L529.6,69.6L529.9,56.5L530.1,69.0L530.3,56.8L530.5,69.3L530.8,53.9L531.0,70.2L531.2,56.7L531.4,68.9L531.7,56.8L531.9,68.4L532.1,55.4L532.3,70.1L532.5,57.4L532.8,70.6L533.0,57.1L533.2,69.2L533.4,57.4L533.7,68.3L533.9,55.9L534.1,68.4L534.3,57.2L534.6,68.3L534.8,55.0L535.0,73.2L535.2,56.5L535.5,71.5L535.7,57.5L535.9,68.1L536.1,57.3L536.4,68.8L536.6,57.4L536.8,68.0L537.0,57.3L537.3,68.2L537.5,54.2L537.7,68.1L537.9,57.5L538.1,67.9L538.4,54.9L538.6,69.0L538.8,57.6L539.0,70.5L539.3,56.0L539.5,71.3L539.7,60.2L539.9,70.3L540.2,61.6L540.4,71.4L540.6,60.9L540.8,73.7L541.1,64.3L541.3,76.4L541.5,69.3L541.7,81.5L542.0,71.9L542.2,81.4L542.4,72.8L542.6,84.9L542.9,79.0L543.1,88.5L543.3,81.3L543.5,94.1L543.7,85.6L544.0,96.0L544.2,88.9L544.4,99.6L544.6,89.3L544.9,101.1" fill="none" stroke="#2b47ab" stroke-width="1.0" stroke-linejoin="round" clip-path="url(#c2)"/>
<path d="M330.1,60.6L330.3,61.3L330.5,60.6L330.8,61.4L331.0,60.4L331.2,61.5L331.4,60.5L331.7,61.5L331.9,60.4L332.1,61.5L332.3,60.4L332.6,61.6L332.8,55.4L333.0,68.3L333.2,50.8L333.5,71.1L333.7,46.6L333.9,71.1L334.1,49.3L334.4,71.2L334.6,49.3L334.8,73.3L335.0,49.7L335.3,73.6L335.5,52.9L335.7,71.0L335.9,52.8L336.1,75.8L336.4,53.5L336.6,71.2L336.8,52.1L337.0,68.6L337.3,55.9L337.5,65.8L337.7,55.6L337.9,67.4L338.2,55.2L338.4,65.9L338.6,54.2L338.8,65.8L339.1,52.4L339.3,68.0L339.5,53.5L339.7,65.7L340.0,54.8L340.2,65.6L340.4,54.6L340.6,65.6L340.8,54.7L341.1,65.5L341.3,54.8L341.5,66.8L341.7,54.9L342.0,65.4L342.2,52.7L342.4,67.1L342.6,55.1L342.9,65.4L343.1,55.1L343.3,65.8L343.5,54.0L343.8,67.3L344.0,55.2L344.2,65.8L344.4,55.2L344.7,66.0L344.9,55.0L345.1,66.5L345.3,53.6L345.6,66.9L345.8,54.8L346.0,67.2L346.2,52.6L346.4,67.7L346.7,54.3L346.9,67.6L347.1,54.1L347.3,67.9L347.6,53.8L347.8,67.6L348.0,52.9L348.2,67.7L348.5,52.7L348.7,68.0L348.9,52.1L349.1,67.5L349.4,51.2L349.6,67.6L349.8,50.4L350.0,67.8L350.3,50.2L350.5,68.1L350.7,46.6L350.9,70.9L351.2,49.7L351.4,69.3L351.6,48.3L351.8,69.7L352.0,45.8L352.3,70.2L352.5,49.6L352.7,70.8L352.9,49.6L353.2,71.0L353.4,50.0L353.6,71.6L353.8,50.4L354.1,71.5L354.3,50.7L354.5,75.9L354.7,50.8L355.0,71.8L355.2,50.9L355.4,72.5L355.6,46.1L355.9,76.8L356.1,50.8L356.3,75.0L356.5,50.6L356.7,73.7L357.0,50.6L357.2,75.4L357.4,50.5L357.6,74.7L357.9,50.5L358.1,80.4L358.3,50.9L358.5,74.5L358.8,49.4L359.0,74.2L359.2,50.0L359.4,76.3L359.7,47.3L359.9,74.2L360.1,51.9L360.3,79.7L360.6,49.0L360.8,73.7L361.0,52.4L361.2,78.6L361.5,48.4L361.7,73.4L361.9,52.3L362.1,77.4L362.3,47.9L362.6,73.2L362.8,51.2L363.0,72.9L363.2,51.0L363.5,73.1L363.7,47.6L363.9,73.5L364.1,50.0L364.4,72.8L364.6,47.6L364.8,72.9L365.0,49.4L365.3,75.0L365.5,48.9L365.7,72.4L365.9,47.7L366.2,72.1L366.4,49.3L366.6,75.9L366.8,48.8L367.1,71.8L367.3,49.1L367.5,71.8L367.7,44.8L367.9,72.2L368.2,44.4L368.4,71.7L368.6,45.3L368.8,73.4L369.1,49.2L369.3,72.1L369.5,49.0L369.7,72.8L370.0,49.5L370.2,76.9L370.4,50.0L370.6,73.1L370.9,50.3L371.1,73.5L371.3,50.6L371.5,73.6L371.8,51.0L372.0,78.6L372.2,51.3L372.4,74.4L372.7,51.3L372.9,74.5L373.1,51.2L373.3,76.1L373.5,50.8L373.8,75.0L374.0,48.1L374.2,75.7L374.4,50.1L374.7,75.1L374.9,45.2L375.1,75.2L375.3,46.1L375.6,75.0L375.8,45.3L376.0,80.3L376.2,49.0L376.5,74.6L376.7,49.3L376.9,78.2L377.1,49.5L377.4,73.5L377.6,49.4L377.8,76.5L378.0,49.4L378.2,72.7L378.5,46.6L378.7,71.5L378.9,49.9L379.1,70.7L379.4,49.4L379.6,74.0L379.8,48.8L380.0,70.4L380.3,45.2L380.5,72.7L380.7,47.6L380.9,73.8L381.2,42.6L381.4,73.8L381.6,46.2L381.8,71.5L382.1,40.0L382.3,75.4L382.5,44.6L382.7,72.3L383.0,38.0L383.2,76.3L383.4,37.8L383.6,73.5L383.8,43.0L384.1,74.0L384.3,44.0L384.5,74.1L384.7,44.5L385.0,74.7L385.2,39.1L385.4,75.9L385.6,45.0L385.9,74.4L386.1,45.0L386.3,74.3L386.5,45.3L386.8,76.8L387.0,44.8L387.2,73.6L387.4,44.8L387.7,77.7L387.9,44.8L388.1,77.7L388.3,44.7L388.6,72.0L388.8,44.4L389.0,74.7L389.2,38.4L389.4,74.6L389.7,37.8L389.9,74.3L390.1,38.0L390.3,71.4L390.6,45.3L390.8,71.6L391.0,45.2L391.2,72.3L391.5,45.2L391.7,75.8L391.9,43.0L392.1,73.2L392.4,45.7L392.6,72.8L392.8,44.6L393.0,72.6L393.3,41.5L393.5,73.7L393.7,42.1L393.9,73.6L394.1,40.2L394.4,70.7L394.6,47.1L394.8,74.1L395.0,45.6L395.3,69.3L395.5,46.8L395.7,69.4L395.9,46.3L396.2,69.2L396.4,41.6L396.6,70.7L396.8,46.7L397.1,69.2L397.3,44.8L397.5,70.5L397.7,47.4L398.0,73.3L398.2,47.9L398.4,71.0L398.6,48.0L398.9,72.6L399.1,49.1L399.3,75.7L399.5,47.5L399.7,74.1L400.0,50.3L400.2,74.9L400.4,50.9L400.6,73.6L400.9,47.6L401.1,73.9L401.3,51.5L401.5,76.5L401.8,50.9L402.0,75.3L402.2,50.7L402.4,77.8L402.7,49.9L402.9,76.5L403.1,49.5L403.3,74.1L403.6,48.9L403.8,73.5L404.0,42.7L404.2,72.7L404.5,46.2L404.7,72.1L404.9,41.9L405.1,71.3L405.3,47.0L405.6,70.4L405.8,46.8L406.0,72.8L406.2,46.7L406.5,69.6L406.7,47.0L406.9,69.6L407.1,42.4L407.4,71.7L407.6,43.2L407.8,69.5L408.0,43.7L408.3,69.7L408.5,42.9L408.7,70.3L408.9,49.3L409.2,70.5L409.4,49.7L409.6,72.2L409.8,50.7L410.0,72.7L410.3,51.1L410.5,71.8L410.7,47.4L410.9,71.9L411.2,52.3L411.4,72.7L411.6,52.4L411.8,73.0L412.1,52.9L412.3,74.0L412.5,52.9L412.7,73.8L413.0,52.6L413.2,74.0L413.4,52.4L413.6,76.6L413.9,52.2L414.1,79.1L414.3,52.3L414.5,77.8L414.8,52.2L415.0,74.1L415.2,49.6L415.4,74.4L415.6,52.1L415.9,73.0L416.1,50.3L416.3,76.9L416.5,52.7L416.8,71.9L417.0,49.5L417.2,71.5L417.4,53.0L417.7,73.0L417.9,53.1L418.1,70.7L418.3,52.4L418.6,70.9L418.8,53.0L419.0,70.8L419.2,49.5L419.5,70.9L419.7,52.3L419.9,73.3L420.1,52.1L420.4,76.0L420.6,51.2L420.8,73.2L421.0,51.1L421.2,79.3L421.5,46.7L421.7,77.8L421.9,46.2L422.1,73.8L422.4,50.9L422.6,73.5L422.8,51.3L423.0,73.4L423.3,51.2L423.5,74.6L423.7,51.1L423.9,72.9L424.2,50.8L424.4,73.0L424.6,48.6L424.8,72.9L425.1,49.9L425.3,73.9L425.5,46.4L425.7,78.7L425.9,49.0L426.2,73.6L426.4,48.2L426.6,74.1L426.8,47.9L427.1,77.0L427.3,47.4L427.5,74.6L427.7,41.2L428.0,81.3L428.2,47.4L428.4,77.8L428.6,47.2L428.9,75.6L429.1,41.9L429.3,75.5L429.5,47.8L429.8,75.1L430.0,47.8L430.2,74.9L430.4,48.6L430.7,74.4L430.9,47.4L431.1,74.2L431.3,49.0L431.5,73.9L431.8,49.8L432.0,75.8L432.2,48.8L432.4,72.9L432.7,50.2L432.9,72.9L433.1,50.8L433.3,72.9L433.6,49.7L433.8,72.7L434.0,50.8L434.2,73.0L434.5,50.7L434.7,76.3L434.9,47.0L435.1,72.7L435.4,44.1L435.6,73.0L435.8,48.7L436.0,72.4L436.3,48.6L436.5,71.9L436.7,42.2L436.9,76.7L437.1,47.4L437.4,71.2L437.6,47.2L437.8,75.5L438.0,47.5L438.3,71.0L438.5,47.3L438.7,72.2L438.9,41.6L439.2,73.1L439.4,47.9L439.6,70.5L439.8,44.5L440.1,74.3L440.3,48.8L440.5,73.4L440.7,48.9L441.0,70.5L441.2,46.9L441.4,72.2L441.6,49.4L441.8,71.7L442.1,46.8L442.3,70.6L442.5,46.4L442.7,73.7L443.0,49.5L443.2,70.8L443.4,47.4L443.6,74.7L443.9,46.7L444.1,70.3L444.3,49.4L444.5,70.9L444.8,48.6L445.0,70.5L445.2,50.5L445.4,70.3L445.7,50.1L445.9,69.8L446.1,50.6L446.3,69.6L446.6,49.6L446.8,69.4L447.0,50.7L447.2,69.7L447.4,50.4L447.7,73.5L447.9,46.9L448.1,69.8L448.3,49.7L448.6,70.1L448.8,49.0L449.0,70.0L449.2,47.4L449.5,70.3L449.7,48.9L449.9,71.9L450.1,49.3L450.4,70.8L450.6,49.5L450.8,74.4L451.0,49.8L451.3,71.2L451.5,50.2L451.7,71.0L451.9,46.1L452.2,75.0L452.4,50.7L452.6,70.6L452.8,48.8L453.0,70.0L453.3,50.3L453.5,70.1L453.7,50.6L453.9,71.4L454.2,50.1L454.4,73.3L454.6,49.7L454.8,70.2L455.1,47.2L455.3,70.5L455.5,49.9L455.7,70.6L456.0,47.9L456.2,71.4L456.4,50.2L456.6,71.4L456.9,47.9L457.1,74.5L457.3,50.0L457.5,76.0L457.8,50.2L458.0,73.9L458.2,48.2L458.4,72.6L458.6,46.6L458.9,72.5L459.1,50.0L459.3,76.5L459.5,46.1L459.8,73.2L460.0,49.9L460.2,72.4L460.4,50.2L460.7,72.9L460.9,47.2L461.1,73.1L461.3,48.5L461.6,73.9L461.8,50.4L462.0,77.3L462.2,50.5L462.5,74.2L462.7,50.8L462.9,76.8L463.1,51.8L463.3,80.5L463.6,48.9L463.8,75.4L464.0,52.0L464.2,75.2L464.5,53.5L464.7,75.3L464.9,52.4L465.1,75.2L465.4,51.2L465.6,75.4L465.8,53.5L466.0,74.5L466.3,52.2L466.5,74.2L466.7,53.5L466.9,73.7L467.2,52.7L467.4,73.4L467.6,48.6L467.8,72.7L468.1,51.8L468.3,71.9L468.5,51.6L468.7,73.4L468.9,50.3L469.2,70.8L469.4,51.0L469.6,75.0L469.8,50.4L470.1,73.0L470.3,51.8L470.5,74.7L470.7,51.9L471.0,70.4L471.2,52.2L471.4,74.2L471.6,48.0L471.9,71.1L472.1,51.8L472.3,72.8L472.5,52.0L472.8,72.7L473.0,51.6L473.2,75.9L473.4,51.4L473.7,73.9L473.9,51.7L474.1,76.4L474.3,51.7L474.5,74.2L474.8,51.4L475.0,77.9L475.2,48.5L475.4,73.7L475.7,52.3L475.9,73.5L476.1,51.4L476.3,72.6L476.6,52.7L476.8,72.5L477.0,49.1L477.2,72.0L477.5,52.8L477.7,71.6L477.9,52.9L478.1,73.8L478.4,52.8L478.6,70.6L478.8,52.7L479.0,71.4L479.2,52.3L479.5,70.1L479.7,52.3L479.9,69.9L480.1,51.9L480.4,70.0L480.6,51.7L480.8,69.9L481.0,48.7L481.3,71.9L481.5,50.9L481.7,70.0L481.9,50.3L482.2,70.4L482.4,46.2L482.6,73.0L482.8,50.1L483.1,73.3L483.3,49.5L483.5,71.6L483.7,47.9L484.0,75.5L484.2,48.3L484.4,75.8L484.6,50.3L484.8,72.0L485.1,49.2L485.3,75.5L485.5,47.9L485.7,72.2L486.0,49.6L486.2,72.1L486.4,49.9L486.6,71.5L486.9,48.1L487.1,74.2L487.3,48.1L487.5,70.8L487.8,50.9L488.0,70.1L488.2,51.6L488.4,69.8L488.7,50.3L488.9,70.6L489.1,48.2L489.3,69.3L489.6,47.7L489.8,69.3L490.0,51.2L490.2,69.3L490.4,51.2L490.7,69.3L490.9,47.0L491.1,69.6L491.3,50.3L491.6,69.6L491.8,50.4L492.0,70.1L492.2,50.0L492.5,73.5L492.7,49.9L492.9,70.3L493.1,50.1L493.4,70.4L493.6,48.8L493.8,69.9L494.0,50.8L494.3,70.0L494.5,51.3L494.7,69.6L494.9,51.7L495.1,69.2L495.4,51.3L495.6,69.6L495.8,52.2L496.0,69.1L496.3,48.3L496.5,72.0L496.7,51.3L496.9,71.4L497.2,52.0L497.4,70.5L497.6,50.2L497.8,69.5L498.1,46.2L498.3,71.6L498.5,49.0L498.7,70.3L499.0,49.8L499.2,70.7L499.4,49.8L499.6,70.6L499.9,49.7L500.1,70.8L500.3,45.2L500.5,70.9L500.7,50.3L501.0,72.4L501.2,50.5L501.4,70.3L501.6,46.4L501.9,70.3L502.1,50.6L502.3,70.1L502.5,50.8L502.8,71.1L503.0,48.1L503.2,71.0L503.4,50.8L503.7,73.9L503.9,51.2L504.1,70.6L504.3,51.2L504.6,70.5L504.8,48.5L505.0,74.3L505.2,46.6L505.5,74.3L505.7,50.0L505.9,71.9L506.1,47.1L506.3,70.4L506.6,51.4L506.8,73.1L507.0,50.2L507.2,71.9L507.5,52.3L507.7,69.8L507.9,52.4L508.1,69.6L508.4,48.7L508.6,69.8L508.8,52.6L509.0,71.1L509.3,52.9L509.5,71.7L509.7,51.5L509.9,69.6L510.2,53.1L510.4,72.7L510.6,53.5L510.8,69.1L511.0,53.5L511.3,68.9L511.5,53.9L511.7,69.3L511.9,54.1L512.2,68.6L512.4,54.0L512.6,69.2L512.8,51.2L513.1,68.9L513.3,54.3L513.5,68.1L513.7,54.1L514.0,68.3L514.2,54.0L514.4,68.6L514.6,53.9L514.9,68.9L515.1,53.6L515.3,72.0L515.5,53.5L515.8,71.2L516.0,50.1L516.2,69.3L516.4,53.2L516.6,71.4L516.9,52.4L517.1,69.3L517.3,53.1L517.5,69.1L517.8,50.4L518.0,68.7L518.2,53.6L518.4,71.8L518.7,50.9L518.9,68.3L519.1,54.1L519.3,67.8L519.6,54.4L519.8,67.5L520.0,54.7L520.2,68.2L520.5,54.9L520.7,67.5L520.9,54.2L521.1,66.9L521.4,53.9L521.6,69.3L521.8,55.3L522.0,67.3L522.2,54.6L522.5,68.8L522.7,55.0L522.9,67.0L523.1,53.4L523.4,68.4L523.6,52.4L523.8,69.9L524.0,54.3L524.3,67.0L524.5,54.0L524.7,69.6L524.9,53.8L525.2,66.7L525.4,54.0L525.6,66.5L525.8,50.7L526.1,66.2L526.3,53.9L526.5,67.6L526.7,52.0L526.9,65.8L527.2,53.7L527.4,65.6L527.6,54.4L527.8,65.7L528.1,54.8L528.3,67.6L528.5,52.2L528.7,66.1L529.0,55.2L529.2,66.6L529.4,54.0L529.6,66.5L529.9,53.2L530.1,69.2L530.3,55.4L530.5,66.8L530.8,55.2L531.0,67.1L531.2,55.2L531.4,69.7L531.7,55.2L531.9,67.3L532.1,55.0L532.3,69.5L532.5,55.0L532.8,70.2L533.0,55.1L533.2,67.4L533.4,52.6L533.7,69.5L533.9,55.2L534.1,67.2L534.3,54.1L534.6,69.6L534.8,55.2L535.0,68.9L535.2,54.3L535.5,67.9L535.7,55.1L535.9,67.2L536.1,53.8L536.4,66.1L536.6,54.9L536.8,67.3L537.0,53.1L537.3,65.8L537.5,54.3L537.7,65.8L537.9,54.1L538.1,65.8L538.4,54.4L538.6,65.6L538.8,52.9L539.0,65.3L539.3,55.3L539.5,65.2L539.7,55.2L539.9,64.9L540.2,56.0L540.4,64.3L540.6,56.2L540.8,63.8L541.1,55.2L541.3,63.4L541.5,56.0L541.7,63.0L542.0,57.4L542.2,62.7L542.4,58.5L542.6,63.0L542.9,59.0L543.1,62.2L543.3,59.6L543.5,61.8L543.7,60.1L544.0,61.5L544.2,60.4L544.4,61.4L544.6,60.4L544.9,61.5" fill="none" stroke="#ed1c24" stroke-width="1.0" stroke-linejoin="round" clip-path="url(#c2)"/>
<path d="M407.5,49.0L407.6,76.9" fill="none" stroke="#2b47ab" stroke-width="0.6" stroke-linejoin="round" stroke-opacity="0.8"/>
<path d="M426.2,108.40h42.4" stroke="#2b47ab" stroke-width="1.1" stroke-dasharray="6.2,3.5" fill="none"/>
<path d="M426.2,124.40h42.4" stroke="#ed1c24" stroke-width="1.1" fill="none"/>
<text x="471.4" y="113.2" class="lg">Origion</text>
<text x="471.4" y="129.2" class="lg">Optimization</text>
<clipPath id="c3"><rect x="46.1" y="204.2" width="216.2" height="120.7"/></clipPath>
<path d="M135.9,324.4v-2.4M135.9,204.7v2.4M225.8,324.4v-2.4M225.8,204.7v2.4M46.1,307.9h2.4M261.7,307.9h-2.4M46.1,284.0h2.4M261.7,284.0h-2.4M46.1,260.1h2.4M261.7,260.1h-2.4M46.1,236.2h2.4M261.7,236.2h-2.4M46.1,212.3h2.4M261.7,212.3h-2.4" stroke="#4a4a4a" stroke-width="0.9" fill="none"/>
<rect x="46.1" y="204.7" width="215.6" height="119.7" fill="none" stroke="#4a4a4a" stroke-width="0.9"/>
<text x="46.1" y="343.0" text-anchor="middle" class="tk">0</text>
<text x="135.9" y="343.0" text-anchor="middle" class="tk">50</text>
<text x="225.8" y="343.0" text-anchor="middle" class="tk">100</text>
<text x="40.5" y="313.1" text-anchor="end" class="tk">-30</text>
<text x="40.5" y="289.2" text-anchor="end" class="tk">-20</text>
<text x="40.5" y="265.3" text-anchor="end" class="tk">-10</text>
<text x="40.5" y="241.4" text-anchor="end" class="tk">0</text>
<text x="40.5" y="217.5" text-anchor="end" class="tk">10</text>
<text x="153.9" y="199.7" text-anchor="middle" class="tt">Pitch throttle</text>
<text x="153.9" y="362.4" text-anchor="middle" class="lb">Time (s)</text>
<text transform="translate(13.5,264.9) rotate(-90)" text-anchor="middle" class="lb">%</text>
<path d="M46.1,230.8L46.3,232.0L46.5,231.1L46.8,231.7L47.0,231.1L47.2,232.1L47.4,231.1L47.7,232.1L47.9,230.6L48.1,231.9L48.3,231.1L48.6,232.1L48.8,231.0L49.0,231.9L49.2,229.0L49.5,232.9L49.7,223.0L49.9,232.8L50.1,214.5L50.4,230.6L50.6,218.6L50.8,235.1L51.0,221.5L51.3,230.8L51.5,221.7L51.7,230.7L51.9,222.1L52.2,230.4L52.4,222.4L52.6,230.3L52.8,222.6L53.1,232.7L53.3,219.5L53.5,230.5L53.7,223.0L54.0,232.8L54.2,222.9L54.4,234.1L54.6,219.4L54.9,233.0L55.1,218.7L55.3,230.5L55.5,223.2L55.8,230.2L56.0,221.2L56.2,230.5L56.4,223.1L56.7,233.7L56.9,227.9L57.1,235.3L57.3,229.9L57.6,239.1L57.8,232.4L58.0,244.2L58.2,234.8L58.5,243.2L58.7,236.1L58.9,250.7L59.1,236.0L59.4,245.7L59.6,230.8L59.8,245.2L60.0,228.1L60.3,245.1L60.5,234.4L60.7,245.1L60.9,234.0L61.2,244.8L61.4,229.1L61.6,244.8L61.8,232.4L62.1,244.7L62.3,227.0L62.5,244.6L62.7,231.6L63.0,251.3L63.2,231.2L63.4,244.3L63.6,220.9L63.8,244.6L64.1,230.7L64.3,247.5L64.5,230.0L64.7,251.1L65.0,230.6L65.2,253.9L65.4,230.8L65.6,246.4L65.9,231.0L66.1,247.6L66.3,231.4L66.5,246.5L66.8,231.0L67.0,252.6L67.2,227.0L67.4,248.2L67.7,230.5L67.9,248.1L68.1,223.6L68.3,257.3L68.6,230.9L68.8,248.2L69.0,229.3L69.2,247.5L69.5,230.1L69.7,255.2L69.9,226.1L70.1,247.9L70.4,229.1L70.6,247.7L70.8,220.2L71.0,247.8L71.3,228.4L71.5,259.7L71.7,214.7L71.9,257.0L72.2,226.9L72.4,259.0L72.6,225.1L72.8,248.8L73.1,209.9L73.3,247.6L73.5,226.3L73.7,248.3L74.0,226.7L74.2,247.8L74.4,226.5L74.6,248.2L74.9,228.0L75.1,252.2L75.3,227.1L75.5,257.5L75.8,228.7L76.0,258.5L76.2,227.2L76.4,257.0L76.7,228.3L76.9,250.4L77.1,228.8L77.3,250.0L77.6,229.0L77.8,250.2L78.0,228.6L78.2,255.1L78.5,228.2L78.7,249.4L78.9,228.0L79.1,249.5L79.4,216.3L79.6,250.0L79.8,211.1L80.0,251.0L80.3,218.4L80.5,255.0L80.7,211.5L80.9,251.1L81.1,212.1L81.4,254.4L81.6,226.4L81.8,259.9L82.0,217.7L82.3,251.9L82.5,220.1L82.7,255.9L82.9,227.1L83.2,252.3L83.4,228.4L83.6,251.4L83.8,228.6L84.1,251.6L84.3,228.5L84.5,250.0L84.7,222.7L85.0,261.1L85.2,227.1L85.4,250.2L85.6,227.9L85.9,250.2L86.1,213.5L86.3,250.1L86.5,226.3L86.8,249.7L87.0,210.6L87.2,249.8L87.4,225.6L87.7,249.5L87.9,225.9L88.1,255.8L88.3,226.0L88.6,249.5L88.8,225.2L89.0,253.9L89.2,224.8L89.5,249.5L89.7,212.3L89.9,249.2L90.1,225.9L90.4,258.0L90.6,213.9L90.8,249.3L91.0,227.4L91.3,249.2L91.5,227.5L91.7,250.0L91.9,227.2L92.2,250.4L92.4,217.3L92.6,249.3L92.8,215.8L93.1,250.4L93.3,226.4L93.5,263.4L93.7,217.8L94.0,262.8L94.2,226.1L94.4,251.7L94.6,221.2L94.9,250.7L95.1,220.9L95.3,251.9L95.5,227.2L95.8,259.9L96.0,219.1L96.2,252.0L96.4,224.5L96.7,257.4L96.9,226.5L97.1,263.0L97.3,225.3L97.6,252.3L97.8,209.1L98.0,253.4L98.2,225.0L98.4,252.2L98.7,226.3L98.9,266.5L99.1,226.2L99.3,261.0L99.6,226.3L99.8,251.3L100.0,226.7L100.2,252.7L100.5,226.9L100.7,259.8L100.9,226.5L101.1,269.4L101.4,227.6L101.6,252.6L101.8,226.6L102.0,252.4L102.3,213.4L102.5,267.6L102.7,226.2L102.9,266.2L103.2,220.2L103.4,256.1L103.6,219.1L103.8,252.4L104.1,227.5L104.3,252.7L104.5,217.2L104.7,251.7L105.0,226.8L105.2,255.4L105.4,227.1L105.6,255.5L105.9,223.6L106.1,251.7L106.3,226.4L106.5,253.0L106.8,223.3L107.0,253.1L107.2,226.8L107.4,256.9L107.7,219.5L107.9,252.9L108.1,218.8L108.3,268.7L108.6,227.1L108.8,271.5L109.0,226.4L109.2,252.5L109.5,226.6L109.7,251.6L109.9,220.6L110.1,252.0L110.4,224.9L110.6,251.9L110.8,227.3L111.0,252.4L111.3,215.8L111.5,261.1L111.7,221.4L111.9,252.9L112.2,215.0L112.4,259.1L112.6,213.5L112.8,252.9L113.1,226.7L113.3,258.9L113.5,227.6L113.7,263.3L114.0,227.7L114.2,253.5L114.4,217.1L114.6,256.6L114.9,227.6L115.1,251.9L115.3,226.5L115.5,252.9L115.7,225.2L116.0,250.7L116.2,224.6L116.4,263.3L116.6,221.0L116.9,255.4L117.1,224.7L117.3,250.3L117.5,225.1L117.8,266.8L118.0,218.0L118.2,251.7L118.4,224.9L118.7,251.2L118.9,221.3L119.1,263.9L119.3,223.9L119.6,251.6L119.8,224.5L120.0,269.2L120.2,226.3L120.5,252.8L120.7,210.5L120.9,258.8L121.1,217.6L121.4,251.8L121.6,226.5L121.8,254.1L122.0,227.3L122.3,252.7L122.5,226.5L122.7,251.3L122.9,227.6L123.2,251.7L123.4,227.4L123.6,251.7L123.8,223.8L124.1,252.8L124.3,225.9L124.5,253.2L124.7,212.1L125.0,268.7L125.2,210.2L125.4,252.2L125.6,226.2L125.9,252.8L126.1,226.1L126.3,251.5L126.5,226.7L126.8,252.8L127.0,226.9L127.2,252.6L127.4,225.8L127.7,252.6L127.9,228.0L128.1,251.4L128.3,228.0L128.6,257.6L128.8,228.0L129.0,251.5L129.2,229.5L129.5,258.3L129.7,225.3L129.9,250.6L130.1,217.3L130.4,251.1L130.6,228.7L130.8,250.7L131.0,228.5L131.3,250.3L131.5,227.4L131.7,250.8L131.9,228.2L132.2,252.5L132.4,227.8L132.6,249.8L132.8,228.1L133.1,262.0L133.3,228.1L133.5,252.0L133.7,227.8L133.9,251.3L134.2,229.0L134.4,260.8L134.6,220.9L134.8,252.4L135.1,229.1L135.3,252.5L135.5,230.4L135.7,266.5L136.0,230.1L136.2,251.6L136.4,230.9L136.6,251.2L136.9,221.2L137.1,256.1L137.3,231.0L137.5,260.4L137.8,231.2L138.0,255.3L138.2,230.9L138.4,251.4L138.7,230.4L138.9,262.4L139.1,226.9L139.3,254.1L139.6,228.8L139.8,254.8L140.0,229.8L140.2,250.0L140.5,217.4L140.7,259.2L140.9,229.6L141.1,249.2L141.4,229.0L141.6,253.8L141.8,229.6L142.0,249.0L142.3,223.2L142.5,257.8L142.7,228.7L142.9,258.7L143.2,230.7L143.4,257.5L143.6,230.4L143.8,246.7L144.1,229.5L144.3,248.2L144.5,228.2L144.7,254.2L145.0,229.3L145.2,246.1L145.4,223.2L145.6,246.5L145.9,229.5L146.1,253.0L146.3,228.5L146.5,255.4L146.8,227.7L147.0,247.1L147.2,217.9L147.4,257.9L147.7,227.6L147.9,255.2L148.1,228.8L148.3,255.1L148.6,228.1L148.8,257.3L149.0,229.5L149.2,248.2L149.5,227.5L149.7,248.4L149.9,229.9L150.1,259.9L150.4,226.4L150.6,255.1L150.8,230.4L151.0,263.0L151.2,221.8L151.5,249.6L151.7,229.3L151.9,260.7L152.1,229.4L152.4,261.8L152.6,229.7L152.8,261.3L153.0,227.5L153.3,249.5L153.5,228.9L153.7,262.0L153.9,229.8L154.2,249.2L154.4,227.7L154.6,254.2L154.8,229.9L155.1,248.7L155.3,229.1L155.5,248.0L155.7,228.8L156.0,248.4L156.2,229.9L156.4,251.1L156.6,229.1L156.9,252.2L157.1,229.1L157.3,247.6L157.5,220.9L157.8,256.8L158.0,229.0L158.2,248.2L158.4,228.6L158.7,257.9L158.9,228.9L159.1,248.5L159.3,227.3L159.6,249.2L159.8,219.1L160.0,249.3L160.2,228.5L160.5,250.9L160.7,228.0L160.9,248.6L161.1,218.2L161.4,263.5L161.6,223.9L161.8,249.6L162.0,221.0L162.3,248.7L162.5,230.5L162.7,248.7L162.9,230.1L163.2,250.7L163.4,224.1L163.6,247.9L163.8,217.7L164.1,250.4L164.3,228.3L164.5,253.2L164.7,228.2L165.0,246.5L165.2,229.0L165.4,246.7L165.6,228.4L165.9,250.6L166.1,220.3L166.3,247.3L166.5,227.9L166.8,246.0L167.0,229.1L167.2,246.8L167.4,229.2L167.7,247.2L167.9,228.8L168.1,252.4L168.3,228.6L168.5,247.0L168.8,228.6L169.0,250.9L169.2,229.6L169.4,259.2L169.7,229.5L169.9,247.3L170.1,219.6L170.3,259.7L170.6,230.2L170.8,248.5L171.0,229.9L171.2,248.2L171.5,230.1L171.7,261.0L171.9,226.3L172.1,253.6L172.4,229.5L172.6,247.9L172.8,221.3L173.0,247.7L173.3,217.3L173.5,251.9L173.7,227.5L173.9,248.5L174.2,229.5L174.4,247.9L174.6,230.0L174.8,250.1L175.1,230.2L175.3,249.3L175.5,218.5L175.7,249.2L176.0,229.6L176.2,258.7L176.4,230.1L176.6,249.2L176.9,231.4L177.1,250.0L177.3,220.8L177.5,250.4L177.8,219.5L178.0,258.6L178.2,231.5L178.4,255.0L178.7,231.9L178.9,251.2L179.1,231.4L179.3,251.8L179.6,231.5L179.8,251.4L180.0,232.6L180.2,252.0L180.5,232.0L180.7,252.5L180.9,232.0L181.1,252.0L181.4,228.9L181.6,252.4L181.8,223.1L182.0,264.3L182.3,232.9L182.5,255.3L182.7,221.0L182.9,255.4L183.2,234.2L183.4,252.3L183.6,234.5L183.8,251.6L184.1,226.0L184.3,261.1L184.5,225.0L184.7,252.1L185.0,221.0L185.2,252.9L185.4,225.3L185.6,263.5L185.8,233.9L186.1,254.1L186.3,233.8L186.5,266.8L186.7,233.3L187.0,253.6L187.2,221.4L187.4,263.7L187.6,232.6L187.9,258.9L188.1,227.9L188.3,253.8L188.5,233.0L188.8,257.2L189.0,224.8L189.2,252.7L189.4,233.9L189.7,252.4L189.9,231.8L190.1,254.7L190.3,233.9L190.6,253.0L190.8,234.3L191.0,252.3L191.2,235.2L191.5,252.6L191.7,234.7L191.9,253.4L192.1,233.4L192.4,259.6L192.6,234.8L192.8,253.4L193.0,234.3L193.3,253.9L193.5,225.1L193.7,253.6L193.9,234.4L194.2,255.7L194.4,233.5L194.6,253.9L194.8,225.1L195.1,253.3L195.3,219.3L195.5,253.5L195.7,233.5L196.0,253.1L196.2,223.6L196.4,255.2L196.6,224.0L196.9,259.1L197.1,218.3L197.3,258.1L197.5,226.6L197.8,256.8L198.0,232.1L198.2,249.6L198.4,231.8L198.7,256.8L198.9,232.5L199.1,250.2L199.3,231.1L199.6,249.0L199.8,222.7L200.0,249.1L200.2,230.1L200.5,249.4L200.7,224.9L200.9,261.9L201.1,223.2L201.4,250.8L201.6,228.7L201.8,253.6L202.0,228.1L202.3,252.7L202.5,218.0L202.7,253.9L202.9,226.7L203.1,250.5L203.4,226.9L203.6,256.1L203.8,226.9L204.0,259.4L204.3,219.9L204.5,247.8L204.7,213.6L204.9,258.0L205.2,226.9L205.4,247.3L205.6,227.8L205.8,247.3L206.1,227.2L206.3,247.5L206.5,227.5L206.7,247.4L207.0,227.3L207.2,247.9L207.4,225.9L207.6,247.6L207.9,227.3L208.1,255.9L208.3,228.3L208.5,249.5L208.8,228.2L209.0,248.4L209.2,228.7L209.4,248.1L209.7,225.1L209.9,250.3L210.1,227.7L210.3,247.4L210.6,215.4L210.8,247.1L211.0,228.6L211.2,248.1L211.5,228.5L211.7,252.4L211.9,227.8L212.1,248.6L212.4,227.8L212.6,254.2L212.8,224.2L213.0,249.5L213.3,228.3L213.5,258.9L213.7,222.7L213.9,249.5L214.2,226.2L214.4,258.9L214.6,227.6L214.8,253.2L215.1,215.0L215.3,248.9L215.5,219.5L215.7,262.5L216.0,226.6L216.2,251.8L216.4,228.6L216.6,263.1L216.9,223.5L217.1,260.3L217.3,224.3L217.5,248.4L217.8,229.1L218.0,248.1L218.2,230.1L218.4,249.5L218.7,222.9L218.9,249.8L219.1,226.2L219.3,260.0L219.6,230.4L219.8,249.2L220.0,230.2L220.2,248.6L220.4,230.2L220.7,249.6L220.9,229.0L221.1,249.7L221.3,229.1L221.6,248.3L221.8,228.9L222.0,260.8L222.2,228.2L222.5,248.4L222.7,217.4L222.9,247.5L223.1,225.8L223.4,261.0L223.6,229.0L223.8,246.8L224.0,228.1L224.3,246.4L224.5,227.9L224.7,257.4L224.9,228.3L225.2,245.5L225.4,222.0L225.6,246.2L225.8,219.2L226.1,245.8L226.3,221.1L226.5,252.1L226.7,228.0L227.0,255.7L227.2,219.6L227.4,244.9L227.6,229.2L227.9,245.1L228.1,225.7L228.3,245.8L228.5,224.3L228.8,255.1L229.0,229.0L229.2,245.5L229.4,224.4L229.7,255.8L229.9,229.3L230.1,245.6L230.3,229.5L230.6,251.4L230.8,229.5L231.0,245.6L231.2,224.9L231.5,253.2L231.7,224.9L231.9,245.2L232.1,229.2L232.4,250.8L232.6,228.2L232.8,245.6L233.0,218.3L233.3,244.0L233.5,228.7L233.7,243.0L233.9,228.4L234.2,243.3L234.4,227.7L234.6,244.5L234.8,216.5L235.1,243.1L235.3,228.1L235.5,243.1L235.7,227.1L236.0,243.3L236.2,218.6L236.4,244.1L236.6,226.6L236.9,243.9L237.1,221.2L237.3,243.9L237.5,229.6L237.7,244.5L238.0,226.4L238.2,253.8L238.4,229.5L238.6,244.3L238.9,229.4L239.1,247.0L239.3,221.5L239.5,243.3L239.8,222.3L240.0,247.2L240.2,225.2L240.4,243.4L240.7,230.2L240.9,243.3L241.1,223.1L241.3,251.0L241.6,229.7L241.8,242.0L242.0,221.4L242.2,242.2L242.5,229.9L242.7,242.0L242.9,229.5L243.1,241.4L243.4,223.1L243.6,246.9L243.8,228.9L244.0,240.7L244.3,222.6L244.5,242.9L244.7,229.4L244.9,240.0L245.2,229.4L245.4,242.8L245.6,230.1L245.8,241.1L246.1,230.0L246.3,240.1L246.5,229.9L246.7,239.8L247.0,222.7L247.2,240.0L247.4,224.5L247.6,239.9L247.9,221.7L248.1,244.5L248.3,225.2L248.5,240.1L248.8,230.3L249.0,240.2L249.2,230.4L249.4,240.5L249.7,230.8L249.9,240.1L250.1,225.6L250.3,240.2L250.6,231.0L250.8,240.8L251.0,231.1L251.2,242.5L251.5,230.2L251.7,242.0L251.9,231.3L252.1,242.1L252.4,227.5L252.6,247.6L252.8,225.2L253.0,241.0L253.3,231.3L253.5,241.3L253.7,225.5L253.9,241.0L254.2,225.8L254.4,243.2L254.6,230.8L254.8,240.9L255.0,229.9L255.3,240.5L255.5,229.8L255.7,240.8L255.9,229.2L256.2,240.8L256.4,225.8L256.6,242.8L256.8,229.0L257.1,240.4L257.3,226.1L257.5,244.5L257.7,226.9L258.0,240.8L258.2,224.3L258.4,240.8L258.6,223.4L258.9,241.8L259.1,230.1L259.3,240.6L259.5,227.4L259.8,244.4L260.0,230.9L260.2,240.9L260.4,231.3L260.7,240.7L260.9,230.9L261.1,241.2L261.3,225.8L261.6,241.1" fill="none" stroke="#2b47ab" stroke-width="1.0" stroke-linejoin="round" clip-path="url(#c3)"/>
<path d="M211.2,205.2L211.3,236.2" fill="none" stroke="#2b47ab" stroke-width="0.9" stroke-linejoin="round"/>
<path d="M46.1,231.0L46.3,232.1L46.5,231.0L46.8,232.1L47.0,231.0L47.2,232.3L47.4,231.0L47.7,232.1L47.9,231.0L48.1,232.1L48.3,231.0L48.6,232.2L48.8,230.9L49.0,232.1L49.2,227.8L49.5,233.9L49.7,215.3L49.9,242.6L50.1,215.0L50.4,241.4L50.6,207.6L50.8,241.1L51.0,214.0L51.3,241.1L51.5,214.3L51.7,240.4L51.9,214.0L52.2,246.0L52.4,213.9L52.6,239.8L52.8,214.1L53.1,239.9L53.3,214.3L53.5,240.1L53.7,214.7L54.0,239.6L54.2,214.9L54.4,240.0L54.6,210.1L54.9,239.3L55.1,215.5L55.3,239.4L55.5,217.2L55.8,241.9L56.0,218.8L56.2,235.5L56.4,223.6L56.7,236.2L56.9,228.6L57.1,239.0L57.3,230.3L57.6,240.4L57.8,232.4L58.0,244.2L58.2,234.0L58.5,250.9L58.7,235.4L58.9,250.1L59.1,233.9L59.4,253.6L59.6,229.4L59.8,248.9L60.0,230.9L60.3,248.9L60.5,228.4L60.7,245.5L60.9,226.3L61.2,245.0L61.4,228.5L61.6,245.1L61.8,224.3L62.1,244.9L62.3,227.9L62.5,247.8L62.7,227.4L63.0,248.0L63.2,227.2L63.4,245.8L63.6,224.8L63.8,249.4L64.1,226.7L64.3,247.3L64.5,226.7L64.7,249.5L65.0,227.4L65.2,253.9L65.4,222.1L65.6,249.2L65.9,228.4L66.1,249.5L66.3,229.0L66.5,249.8L66.8,230.0L67.0,255.5L67.2,230.4L67.4,252.2L67.7,230.4L67.9,255.6L68.1,226.2L68.3,250.5L68.6,230.6L68.8,253.3L69.0,230.8L69.2,251.5L69.5,231.2L69.7,253.4L69.9,230.6L70.1,259.7L70.4,229.8L70.6,253.6L70.8,229.6L71.0,254.5L71.3,222.7L71.5,255.5L71.7,227.9L71.9,256.5L72.2,225.3L72.4,256.9L72.6,228.0L72.8,257.3L73.1,220.9L73.3,257.9L73.5,227.9L73.7,262.0L74.0,228.2L74.2,268.9L74.4,228.3L74.6,266.4L74.9,228.1L75.1,266.7L75.3,228.8L75.5,259.9L75.8,221.9L76.0,262.5L76.2,228.3L76.4,259.2L76.7,224.4L76.9,261.8L77.1,220.4L77.3,258.0L77.6,225.6L77.8,264.2L78.0,227.4L78.2,260.6L78.5,222.1L78.7,257.0L78.9,227.9L79.1,263.6L79.4,225.9L79.6,256.5L79.8,221.0L80.0,256.7L80.3,224.0L80.5,257.2L80.7,229.2L80.9,259.3L81.1,229.4L81.4,256.6L81.6,230.2L81.8,257.9L82.0,223.7L82.3,256.3L82.5,226.0L82.7,256.0L82.9,231.2L83.2,260.3L83.4,227.9L83.6,256.3L83.8,230.5L84.1,261.8L84.3,230.7L84.5,256.4L84.7,225.6L85.0,256.2L85.2,230.3L85.4,256.8L85.6,229.7L85.9,256.6L86.1,229.0L86.3,263.5L86.5,228.8L86.8,257.8L87.0,228.5L87.2,258.5L87.4,223.2L87.7,258.2L87.9,225.1L88.1,258.4L88.3,228.9L88.6,261.4L88.8,228.6L89.0,257.4L89.2,223.4L89.5,257.3L89.7,223.9L89.9,261.4L90.1,226.1L90.4,257.5L90.6,226.0L90.8,256.6L91.0,231.2L91.3,256.8L91.5,231.2L91.7,257.2L91.9,231.3L92.2,257.4L92.4,231.4L92.6,258.3L92.8,231.7L93.1,267.7L93.3,229.0L93.5,259.9L93.7,231.6L94.0,259.8L94.2,231.7L94.4,263.6L94.6,227.1L94.9,260.6L95.1,228.3L95.3,259.9L95.5,230.5L95.8,262.2L96.0,229.7L96.2,260.3L96.4,229.4L96.7,260.5L96.9,222.3L97.1,260.1L97.3,228.7L97.6,266.2L97.8,223.3L98.0,261.6L98.2,225.5L98.4,261.9L98.7,228.2L98.9,271.8L99.1,219.6L99.3,272.0L99.6,227.8L99.8,266.9L100.0,228.4L100.2,262.2L100.5,227.9L100.7,261.8L100.9,228.3L101.1,260.9L101.4,229.2L101.6,260.1L101.8,229.7L102.0,260.6L102.3,230.4L102.5,260.1L102.7,225.1L102.9,267.8L103.2,231.8L103.4,261.9L103.6,232.2L103.8,259.9L104.1,229.6L104.3,260.2L104.5,229.8L104.7,261.0L105.0,232.8L105.2,270.5L105.4,233.1L105.6,263.7L105.9,231.5L106.1,262.6L106.3,232.0L106.5,269.3L106.8,227.9L107.0,262.2L107.2,232.6L107.4,267.6L107.7,232.5L107.9,261.3L108.1,232.2L108.3,263.6L108.6,227.8L108.8,259.7L109.0,232.2L109.2,262.9L109.5,232.5L109.7,258.5L109.9,232.6L110.1,257.7L110.4,232.9L110.6,265.5L110.8,227.3L111.0,257.4L111.3,228.4L111.5,258.1L111.7,232.9L111.9,262.2L112.2,232.6L112.4,257.7L112.6,231.5L112.8,258.3L113.1,232.6L113.3,259.3L113.5,229.7L113.7,262.8L114.0,232.7L114.2,259.6L114.4,231.9L114.6,262.8L114.9,231.2L115.1,268.2L115.3,228.2L115.5,260.6L115.7,227.2L116.0,260.4L116.2,229.7L116.4,260.9L116.6,229.8L116.9,261.0L117.1,222.8L117.3,260.8L117.5,228.3L117.8,260.4L118.0,224.0L118.2,260.7L118.4,226.7L118.7,260.5L118.9,231.1L119.1,265.2L119.3,231.2L119.6,259.6L119.8,225.4L120.0,259.5L120.2,231.1L120.5,258.7L120.7,231.0L120.9,266.0L121.1,230.0L121.4,265.3L121.6,229.8L121.8,256.3L122.0,229.1L122.3,257.8L122.5,228.3L122.7,257.0L122.9,228.4L123.2,255.4L123.4,228.6L123.6,257.1L123.8,225.3L124.1,255.3L124.3,226.2L124.5,255.8L124.7,229.1L125.0,257.8L125.2,229.2L125.4,263.2L125.6,229.5L125.9,262.4L126.1,229.6L126.3,263.0L126.5,229.3L126.8,256.0L127.0,228.8L127.2,256.3L127.4,228.0L127.7,255.7L127.9,221.5L128.1,255.6L128.3,227.4L128.6,255.6L128.8,226.6L129.0,259.2L129.2,226.2L129.5,255.1L129.7,225.5L129.9,255.4L130.1,225.5L130.4,258.3L130.6,225.4L130.8,255.6L131.0,217.2L131.3,256.9L131.5,220.6L131.7,254.1L131.9,216.5L132.2,254.1L132.4,217.2L132.6,254.1L132.8,222.7L133.1,254.2L133.3,222.2L133.5,262.4L133.7,217.7L133.9,254.7L134.2,221.8L134.4,254.9L134.6,217.8L134.8,259.4L135.1,221.8L135.3,255.4L135.5,220.8L135.7,255.1L136.0,216.3L136.2,255.1L136.4,219.5L136.6,255.1L136.9,214.8L137.1,255.3L137.3,219.6L137.5,257.5L137.8,217.5L138.0,256.5L138.2,218.3L138.4,263.1L138.7,217.8L138.9,254.5L139.1,214.5L139.3,254.0L139.6,216.1L139.8,254.0L140.0,217.8L140.2,256.8L140.5,218.5L140.7,262.8L140.9,214.0L141.1,253.1L141.4,218.4L141.6,252.9L141.8,218.4L142.0,253.0L142.3,217.8L142.5,253.9L142.7,212.5L142.9,251.5L143.2,218.6L143.4,251.1L143.6,216.1L143.8,250.6L144.1,218.1L144.3,250.2L144.5,216.1L144.7,249.5L145.0,217.3L145.2,253.9L145.4,217.8L145.6,249.2L145.9,217.8L146.1,249.1L146.3,217.7L146.5,251.8L146.8,218.4L147.0,248.4L147.2,213.7L147.4,254.2L147.7,216.3L147.9,248.4L148.1,219.3L148.3,248.5L148.6,213.3L148.8,248.2L149.0,218.9L149.2,248.8L149.5,219.1L149.7,252.0L149.9,208.7L150.1,248.9L150.4,218.2L150.6,255.7L150.8,218.5L151.0,256.3L151.2,213.0L151.5,253.7L151.7,218.1L151.9,254.1L152.1,214.3L152.4,257.3L152.6,217.4L152.8,251.1L153.0,218.4L153.3,250.3L153.5,209.6L153.7,250.6L153.9,218.5L154.2,250.1L154.4,219.2L154.6,250.9L154.8,218.6L155.1,249.7L155.3,217.8L155.5,254.3L155.7,218.2L156.0,249.7L156.2,218.5L156.4,249.2L156.6,217.6L156.9,249.2L157.1,217.8L157.3,249.2L157.5,217.7L157.8,254.2L158.0,210.4L158.2,249.5L158.4,214.2L158.7,251.8L158.9,218.7L159.1,249.7L159.3,219.4L159.6,255.3L159.8,219.9L160.0,249.2L160.2,220.7L160.5,249.3L160.7,220.8L160.9,249.0L161.1,220.9L161.4,248.8L161.6,221.2L161.8,248.5L162.0,221.7L162.3,248.5L162.5,213.8L162.7,251.6L162.9,221.9L163.2,249.0L163.4,221.9L163.6,252.9L163.8,221.4L164.1,249.0L164.3,220.2L164.5,248.5L164.7,219.9L165.0,248.6L165.2,219.5L165.4,248.6L165.6,219.6L165.9,248.6L166.1,218.0L166.3,248.9L166.5,217.4L166.8,254.1L167.0,219.7L167.2,251.8L167.4,221.5L167.7,252.2L167.9,221.7L168.1,252.2L168.3,221.8L168.5,250.1L168.8,221.7L169.0,249.7L169.2,222.9L169.4,249.8L169.7,222.9L169.9,250.4L170.1,218.8L170.3,250.1L170.6,220.4L170.8,249.9L171.0,218.0L171.2,250.2L171.5,221.4L171.7,250.3L171.9,220.9L172.1,250.9L172.4,216.7L172.6,250.7L172.8,212.1L173.0,251.0L173.3,217.3L173.5,258.5L173.7,222.7L173.9,254.4L174.2,223.9L174.4,256.0L174.6,224.9L174.8,257.1L175.1,226.8L175.3,257.9L175.5,228.2L175.7,263.9L176.0,229.6L176.2,259.2L176.4,231.3L176.6,261.0L176.9,232.8L177.1,259.9L177.3,234.4L177.5,260.6L177.8,230.7L178.0,261.5L178.2,235.7L178.4,262.9L178.7,236.1L178.9,268.6L179.1,229.8L179.3,262.8L179.6,235.9L179.8,263.5L180.0,235.6L180.2,264.8L180.5,235.1L180.7,265.3L180.9,234.9L181.1,269.5L181.4,235.4L181.6,267.7L181.8,235.2L182.0,271.4L182.3,236.3L182.5,268.7L182.7,230.9L182.9,269.6L183.2,237.6L183.4,270.1L183.6,230.5L183.8,270.9L184.1,237.3L184.3,271.5L184.5,239.3L184.7,274.4L185.0,239.8L185.2,271.5L185.4,240.2L185.6,271.1L185.8,240.6L186.1,270.8L186.3,240.6L186.5,269.7L186.7,241.2L187.0,269.4L187.2,241.1L187.4,273.3L187.6,239.5L187.9,270.8L188.1,235.8L188.3,267.1L188.5,241.2L188.8,267.2L189.0,240.6L189.2,267.6L189.4,240.6L189.7,267.6L189.9,240.7L190.1,271.4L190.3,239.0L190.6,268.4L190.8,238.7L191.0,273.1L191.2,240.9L191.5,268.8L191.7,237.5L191.9,269.6L192.1,233.0L192.4,272.5L192.6,237.9L192.8,269.6L193.0,241.2L193.3,270.7L193.5,241.9L193.7,277.8L193.9,237.7L194.2,270.7L194.4,241.8L194.6,276.6L194.8,238.3L195.1,271.5L195.3,237.5L195.5,271.5L195.7,241.1L196.0,272.4L196.2,241.5L196.4,272.6L196.6,239.9L196.9,271.9L197.1,231.1L197.3,270.0L197.5,236.8L197.8,267.9L198.0,227.3L198.2,266.4L198.4,232.6L198.7,272.0L198.9,232.2L199.1,261.7L199.3,231.5L199.6,259.5L199.8,225.2L200.0,261.0L200.2,227.5L200.5,253.9L200.7,225.2L200.9,250.9L201.1,223.1L201.4,247.7L201.6,218.2L201.8,245.7L202.0,221.7L202.3,246.5L202.5,221.5L202.7,245.5L202.9,221.4L203.1,245.7L203.4,221.5L203.6,247.1L203.8,217.4L204.0,245.8L204.3,217.5L204.5,248.5L204.7,221.5L204.9,245.9L205.2,221.3L205.4,245.6L205.6,216.9L205.8,245.8L206.1,220.8L206.3,248.2L206.5,219.8L206.7,246.3L207.0,219.9L207.2,245.4L207.4,216.3L207.6,245.7L207.9,219.2L208.1,247.4L208.3,219.2L208.5,247.2L208.8,218.9L209.0,252.5L209.2,218.3L209.4,248.2L209.7,209.5L209.9,247.7L210.1,217.9L210.3,247.5L210.6,213.6L210.8,248.6L211.0,218.1L211.2,248.2L211.5,216.9L211.7,248.3L211.9,218.2L212.1,248.3L212.4,219.0L212.6,247.5L212.8,219.6L213.0,250.1L213.3,219.7L213.5,247.0L213.7,213.8L213.9,250.4L214.2,221.8L214.4,246.0L214.6,222.9L214.8,245.3L215.1,223.1L215.3,245.5L215.5,224.0L215.7,245.1L216.0,223.8L216.2,245.2L216.4,224.4L216.6,245.2L216.9,223.9L217.1,245.9L217.3,224.0L217.5,246.2L217.8,219.2L218.0,248.0L218.2,223.8L218.4,246.4L218.7,219.7L218.9,249.7L219.1,222.7L219.3,247.2L219.6,223.1L219.8,246.8L220.0,223.0L220.2,252.2L220.4,221.2L220.7,246.6L220.9,222.6L221.1,246.0L221.3,222.6L221.6,246.4L221.8,217.1L222.0,246.0L222.2,222.7L222.5,245.8L222.7,218.2L222.9,245.9L223.1,218.5L223.4,249.3L223.6,216.0L223.8,246.1L224.0,218.4L224.3,245.7L224.5,222.6L224.7,245.5L224.9,218.4L225.2,245.7L225.4,222.5L225.6,245.8L225.8,222.7L226.1,250.9L226.3,216.7L226.5,246.6L226.7,223.1L227.0,247.4L227.2,224.0L227.4,247.8L227.6,223.0L227.9,248.2L228.1,224.7L228.3,248.3L228.5,224.6L228.8,252.7L229.0,224.6L229.2,255.0L229.4,223.6L229.7,248.3L229.9,224.3L230.1,248.1L230.3,222.6L230.6,248.2L230.8,218.0L231.0,251.4L231.2,220.3L231.5,248.4L231.7,217.9L231.9,248.7L232.1,224.6L232.4,248.9L232.6,223.4L232.8,249.5L233.0,224.9L233.3,249.0L233.5,221.8L233.7,248.9L233.9,226.0L234.2,254.1L234.4,223.7L234.6,253.8L234.8,227.1L235.1,250.4L235.3,227.6L235.5,247.2L235.7,223.1L236.0,247.1L236.2,225.7L236.4,248.1L236.6,228.3L236.9,247.7L237.1,224.8L237.3,245.1L237.5,228.6L237.7,244.9L238.0,228.6L238.2,245.7L238.4,224.8L238.6,244.5L238.9,225.8L239.1,244.7L239.3,228.9L239.5,244.4L239.8,227.8L240.0,244.3L240.2,226.5L240.4,245.6L240.7,230.1L240.9,244.4L241.1,230.4L241.3,244.7L241.6,230.3L241.8,244.5L242.0,230.6L242.2,246.9L242.5,231.0L242.7,244.1L242.9,231.0L243.1,243.8L243.4,230.3L243.6,243.6L243.8,228.1L244.0,243.7L244.3,231.1L244.5,243.2L244.7,231.4L244.9,243.1L245.2,231.4L245.4,242.7L245.6,231.9L245.8,242.4L246.1,229.9L246.3,243.6L246.5,232.4L246.7,242.6L247.0,234.2L247.2,242.8L247.4,236.1L247.6,243.8L247.9,238.6L248.1,245.8L248.3,240.3L248.5,246.3L248.8,244.2L249.0,248.5L249.2,248.3L249.4,251.0L249.7,251.9L249.9,254.5L250.1,254.9L250.3,258.0L250.6,259.0L250.8,261.5L251.0,264.9L251.2,267.5L251.5,270.9L251.7,273.5L251.9,276.8L252.1,279.5L252.4,282.7L252.6,285.5L252.8,289.5L253.0,292.3L253.3,296.3L253.5,299.8L253.7,300.2L253.9,303.3L254.2,293.3L254.4,296.1L254.6,285.5L254.8,288.7L255.0,275.1L255.3,277.9L255.5,264.4L255.7,268.6L255.9,251.6L256.2,261.9L256.4,242.1L256.6,253.4L256.8,229.7L257.1,247.2L257.3,232.4L257.5,247.2L257.7,229.8L258.0,245.7L258.2,229.3L258.4,245.4L258.6,231.0L258.9,248.1L259.1,231.6L259.3,245.5L259.5,230.0L259.8,244.5L260.0,228.9L260.2,244.1L260.4,230.2L260.7,244.3L260.9,230.1L261.1,244.3L261.3,230.0L261.6,244.7" fill="none" stroke="#ed1c24" stroke-width="1.0" stroke-linejoin="round" clip-path="url(#c3)"/>
<path d="M79.3,208.3L79.4,270.2" fill="none" stroke="#ed1c24" stroke-width="0.9" stroke-linejoin="round"/>
<path d="M195.9,260.1L196.0,288.3" fill="none" stroke="#ed1c24" stroke-width="0.9" stroke-linejoin="round"/>
<path d="M188.0,260.1L188.1,281.4" fill="none" stroke="#ed1c24" stroke-width="0.9" stroke-linejoin="round"/>
<path d="M192.5,260.1L192.6,279.2" fill="none" stroke="#ed1c24" stroke-width="0.9" stroke-linejoin="round"/>
<path d="M135.7,296.00h42.4" stroke="#2b47ab" stroke-width="1.1" stroke-dasharray="6.2,3.5" fill="none"/>
<path d="M135.7,312.35h42.4" stroke="#ed1c24" stroke-width="1.1" fill="none"/>
<text x="181.4" y="300.8" class="lg">Origion</text>
<text x="181.4" y="317.2" class="lg">Optimization</text>
<clipPath id="c4"><rect x="330.1" y="204.2" width="215.5" height="120.7"/></clipPath>
<path d="M419.6,324.4v-2.4M419.6,204.7v2.4M509.2,324.4v-2.4M509.2,204.7v2.4M330.1,264.5h2.4M545.0,264.5h-2.4" stroke="#4a4a4a" stroke-width="0.9" fill="none"/>
<rect x="330.1" y="204.7" width="214.9" height="119.7" fill="none" stroke="#4a4a4a" stroke-width="0.9"/>
<text x="330.1" y="343.0" text-anchor="middle" class="tk">0</text>
<text x="419.6" y="343.0" text-anchor="middle" class="tk">50</text>
<text x="509.2" y="343.0" text-anchor="middle" class="tk">100</text>
<text x="324.5" y="329.6" text-anchor="end" class="tk">-20</text>
<text x="324.5" y="269.7" text-anchor="end" class="tk">0</text>
<text x="324.5" y="209.9" text-anchor="end" class="tk">20</text>
<text x="437.6" y="199.7" text-anchor="middle" class="tt">Yaw throttle</text>
<text x="437.6" y="362.4" text-anchor="middle" class="lb">Time (s)</text>
<text transform="translate(298.3,264.9) rotate(-90)" text-anchor="middle" class="lb">%</text>
<path d="M330.1,297.2L330.3,304.0L330.5,298.6L330.8,303.4L331.0,297.2L331.2,302.8L331.4,299.2L331.7,303.6L331.9,245.1L332.1,250.2L332.3,245.8L332.6,249.2L332.8,246.2L333.0,248.9L333.2,246.6L333.5,248.9L333.7,246.1L333.9,248.1L334.1,246.3L334.4,248.1L334.6,245.9L334.8,247.9L335.0,246.2L335.3,248.2L335.5,246.2L335.7,247.9L335.9,245.8L336.2,248.1L336.4,245.6L336.6,249.1L336.8,246.3L337.0,248.2L337.3,245.8L337.5,249.1L337.7,245.7L337.9,248.6L338.2,246.4L338.4,248.2L338.6,245.9L338.8,248.7L339.1,245.7L339.3,248.3L339.5,245.5L339.7,248.3L340.0,246.0L340.2,247.8L340.4,246.6L340.6,247.7L340.9,246.5L341.1,247.7L341.3,246.5L341.5,247.7L341.8,246.5L342.0,248.0L342.2,246.0L342.4,248.0L342.7,246.4L342.9,247.9L343.1,246.4L343.3,248.0L343.5,247.4L343.8,249.8L344.0,250.2L344.2,252.9L344.4,252.5L344.7,256.1L344.9,253.3L345.1,257.1L345.3,253.9L345.6,256.6L345.8,253.0L346.0,257.3L346.2,253.7L346.5,259.2L346.7,253.0L346.9,257.5L347.1,252.6L347.4,257.6L347.6,251.7L347.8,256.2L348.0,249.1L348.3,256.5L348.5,247.8L348.7,254.6L348.9,248.5L349.2,252.7L349.4,246.8L349.6,252.9L349.8,246.0L350.0,252.4L350.3,245.3L350.5,251.1L350.7,244.2L350.9,249.0L351.2,240.9L351.4,250.2L351.6,240.7L351.8,247.9L352.1,241.5L352.3,245.9L352.5,241.0L352.7,245.2L353.0,242.4L353.2,245.8L353.4,240.7L353.6,245.4L353.9,241.5L354.1,245.8L354.3,240.6L354.5,247.4L354.8,242.1L355.0,248.2L355.2,242.1L355.4,248.1L355.7,242.3L355.9,247.7L356.1,240.9L356.3,249.4L356.5,242.5L356.8,249.8L357.0,242.4L357.2,247.3L357.4,241.5L357.7,249.5L357.9,241.7L358.1,249.8L358.3,242.7L358.6,248.9L358.8,242.6L359.0,248.2L359.2,241.0L359.5,249.3L359.7,242.2L359.9,247.0L360.1,241.4L360.4,249.4L360.6,239.4L360.8,248.1L361.0,241.3L361.3,250.5L361.5,246.3L361.7,253.1L361.9,245.6L362.2,251.5L362.4,241.1L362.6,248.5L362.8,236.2L363.0,242.6L363.3,225.5L363.5,230.7L363.7,233.8L363.9,239.1L364.2,239.2L364.4,246.4L364.6,238.7L364.8,247.5L365.1,239.9L365.3,246.9L365.5,240.2L365.7,246.6L366.0,242.3L366.2,247.2L366.4,241.6L366.6,248.4L366.9,242.6L367.1,247.3L367.3,242.7L367.5,247.0L367.8,243.0L368.0,248.2L368.2,242.3L368.4,247.0L368.7,242.0L368.9,246.9L369.1,241.6L369.3,247.5L369.5,242.6L369.8,249.1L370.0,242.5L370.2,249.2L370.4,242.8L370.7,246.6L370.9,242.7L371.1,247.6L371.3,242.7L371.6,246.1L371.8,242.8L372.0,246.6L372.2,241.7L372.5,245.4L372.7,241.7L372.9,245.3L373.1,241.3L373.4,246.7L373.6,240.5L373.8,245.1L374.0,238.8L374.3,246.1L374.5,238.9L374.7,245.3L374.9,239.2L375.2,247.8L375.4,238.6L375.6,246.3L375.8,236.4L376.0,244.0L376.3,237.4L376.5,246.4L376.7,236.0L376.9,244.4L377.2,237.2L377.4,242.6L377.6,237.7L377.8,242.4L378.1,237.0L378.3,243.3L378.5,237.8L378.7,243.3L379.0,237.1L379.2,241.1L379.4,236.6L379.6,241.7L379.9,235.8L380.1,240.7L380.3,233.8L380.5,241.2L380.8,234.1L381.0,239.8L381.2,233.8L381.4,240.4L381.7,234.3L381.9,239.8L382.1,235.2L382.3,239.9L382.5,234.5L382.8,239.5L383.0,233.6L383.2,239.8L383.4,232.0L383.7,240.1L383.9,233.5L384.1,238.1L384.3,232.7L384.6,238.3L384.8,231.4L385.0,237.8L385.2,233.0L385.5,238.6L385.7,231.9L385.9,239.3L386.1,232.6L386.4,238.9L386.6,233.1L386.8,240.5L387.0,234.1L387.3,240.1L387.5,235.9L387.7,241.8L387.9,238.1L388.2,243.2L388.4,236.9L388.6,244.6L388.8,238.3L389.0,247.4L389.3,240.4L389.5,248.9L389.7,240.7L389.9,246.4L390.2,238.7L390.4,246.2L390.6,236.8L390.8,243.4L391.1,236.5L391.3,242.5L391.5,233.0L391.7,239.5L392.0,233.3L392.2,238.8L392.4,231.3L392.6,239.1L392.9,234.5L393.1,242.0L393.3,232.7L393.5,242.5L393.8,236.5L394.0,244.3L394.2,237.2L394.4,245.6L394.7,237.6L394.9,245.4L395.1,238.6L395.3,245.6L395.5,241.3L395.8,246.9L396.0,242.5L396.2,248.7L396.4,245.1L396.7,249.9L396.9,245.7L397.1,251.3L397.3,247.8L397.6,251.7L397.8,247.8L398.0,253.3L398.2,249.3L398.5,255.8L398.7,250.2L398.9,254.4L399.1,249.2L399.4,255.0L399.6,250.6L399.8,254.6L400.0,248.6L400.3,255.5L400.5,249.2L400.7,254.3L400.9,250.2L401.2,256.1L401.4,249.9L401.6,255.4L401.8,250.2L402.0,257.0L402.3,250.6L402.5,255.5L402.7,250.1L402.9,256.9L403.2,250.9L403.4,257.4L403.6,251.1L403.8,256.8L404.1,250.5L404.3,256.9L404.5,249.7L404.7,255.7L405.0,247.0L405.2,253.3L405.4,243.9L405.6,251.8L405.9,241.6L406.1,248.6L406.3,241.5L406.5,248.4L406.8,241.6L407.0,247.9L407.2,241.4L407.4,249.2L407.7,243.2L407.9,249.8L408.1,245.0L408.3,249.6L408.5,243.7L408.8,250.0L409.0,245.1L409.2,251.6L409.4,243.4L409.7,251.4L409.9,242.0L410.1,251.0L410.3,244.4L410.6,251.6L410.8,242.9L411.0,250.6L411.2,245.9L411.5,250.7L411.7,243.9L411.9,250.8L412.1,247.5L412.4,252.9L412.6,246.1L412.8,252.4L413.0,246.5L413.3,253.3L413.5,244.9L413.7,250.5L413.9,244.3L414.2,250.1L414.4,243.4L414.6,251.7L414.8,241.6L415.0,248.8L415.3,242.0L415.5,248.9L415.7,243.8L415.9,248.3L416.2,242.9L416.4,249.9L416.6,243.8L416.8,248.0L417.1,241.7L417.3,248.3L417.5,243.4L417.7,248.0L418.0,241.7L418.2,247.7L418.4,240.3L418.6,248.3L418.9,241.9L419.1,248.1L419.3,241.3L419.5,250.2L419.8,240.7L420.0,249.1L420.2,241.8L420.4,250.3L420.7,242.0L420.9,248.7L421.1,244.0L421.3,251.1L421.5,243.0L421.8,250.1L422.0,244.2L422.2,249.3L422.4,243.5L422.7,250.2L422.9,243.8L423.1,248.8L423.3,243.5L423.6,249.0L423.8,242.6L424.0,250.6L424.2,244.2L424.5,249.3L424.7,242.4L424.9,250.3L425.1,243.8L425.4,249.4L425.6,242.4L425.8,250.3L426.0,243.8L426.3,250.2L426.5,255.4L426.7,260.2L426.9,269.9L427.2,275.8L427.4,280.4L427.6,286.7L427.8,287.3L428.0,291.1L428.3,277.8L428.5,281.7L428.7,271.6L428.9,276.5L429.2,268.4L429.4,274.5L429.6,263.0L429.8,269.5L430.1,261.6L430.3,268.2L430.5,258.0L430.7,266.5L431.0,256.6L431.2,265.2L431.4,253.7L431.6,262.7L431.9,253.2L432.1,260.0L432.3,252.8L432.5,260.5L432.8,250.6L433.0,256.9L433.2,247.4L433.4,254.0L433.7,247.3L433.9,253.9L434.1,249.4L434.3,255.6L434.5,249.2L434.8,255.6L435.0,249.0L435.2,254.4L435.4,247.7L435.7,254.2L435.9,248.8L436.1,254.4L436.3,247.4L436.6,254.0L436.8,248.7L437.0,254.2L437.2,247.1L437.5,254.1L437.7,248.9L437.9,253.0L438.1,247.0L438.4,254.5L438.6,248.9L438.8,253.1L439.0,249.5L439.3,253.2L439.5,249.7L439.7,254.4L439.9,248.7L440.2,254.0L440.4,250.0L440.6,255.3L440.8,249.9L441.0,254.1L441.3,248.0L441.5,255.2L441.7,249.5L441.9,254.3L442.2,249.1L442.4,256.3L442.6,249.4L442.8,254.4L443.1,249.7L443.3,256.1L443.5,248.6L443.7,253.9L444.0,250.3L444.2,254.2L444.4,250.0L444.6,253.8L444.9,250.2L445.1,254.8L445.3,250.2L445.5,253.8L445.8,250.2L446.0,254.5L446.2,251.1L446.4,255.9L446.6,251.0L446.9,254.5L447.1,250.6L447.3,255.7L447.5,250.2L447.8,257.4L448.0,249.1L448.2,255.5L448.4,249.3L448.7,255.3L448.9,248.7L449.1,256.4L449.3,250.1L449.6,257.3L449.8,249.7L450.0,257.5L450.2,250.0L450.5,256.1L450.7,247.2L450.9,255.4L451.1,247.3L451.4,255.3L451.6,247.7L451.8,256.1L452.0,249.3L452.3,255.5L452.5,249.5L452.7,256.5L452.9,250.5L453.1,256.5L453.4,249.7L453.6,256.3L453.8,250.7L454.0,255.2L454.3,249.2L454.5,257.6L454.7,249.2L454.9,257.2L455.2,249.8L455.4,257.0L455.6,249.5L455.8,257.7L456.1,250.3L456.3,258.4L456.5,251.4L456.7,256.2L457.0,251.6L457.2,257.8L457.4,251.3L457.6,256.5L457.9,251.5L458.1,256.4L458.3,250.0L458.5,258.3L458.8,251.0L459.0,255.5L459.2,250.3L459.4,256.2L459.6,249.5L459.9,257.1L460.1,249.7L460.3,256.8L460.5,248.7L460.8,255.8L461.0,249.1L461.2,256.9L461.4,246.1L461.7,252.7L461.9,241.4L462.1,249.3L462.3,239.0L462.6,245.0L462.8,234.0L463.0,240.0L463.2,228.5L463.5,235.9L463.7,227.0L463.9,233.4L464.1,226.4L464.4,231.1L464.6,227.1L464.8,234.9L465.0,227.2L465.3,234.6L465.5,230.3L465.7,237.9L465.9,232.4L466.1,238.2L466.4,231.4L466.6,238.8L466.8,234.4L467.0,241.3L467.3,235.6L467.5,240.6L467.7,237.4L467.9,242.7L468.2,237.8L468.4,244.1L468.6,236.3L468.8,244.7L469.1,238.3L469.3,243.7L469.5,236.9L469.7,243.4L470.0,236.6L470.2,245.0L470.4,239.9L470.6,245.3L470.9,239.0L471.1,244.3L471.3,240.8L471.5,246.1L471.8,240.5L472.0,244.8L472.2,239.6L472.4,245.2L472.6,240.4L472.9,247.5L473.1,239.0L473.3,245.2L473.5,240.1L473.8,246.2L474.0,239.2L474.2,246.5L474.4,238.9L474.7,246.3L474.9,239.9L475.1,246.2L475.3,240.6L475.6,244.4L475.8,239.6L476.0,245.3L476.2,241.0L476.5,245.3L476.7,240.6L476.9,245.3L477.1,239.1L477.4,245.2L477.6,239.8L477.8,247.1L478.0,240.5L478.3,245.8L478.5,238.8L478.7,246.9L478.9,238.0L479.1,246.1L479.4,240.5L479.6,246.6L479.8,238.4L480.0,248.9L480.3,241.3L480.5,246.3L480.7,239.6L480.9,248.7L481.2,241.5L481.4,247.1L481.6,242.9L481.8,250.2L482.1,243.7L482.3,249.9L482.5,243.6L482.7,250.0L483.0,244.1L483.2,252.3L483.4,244.3L483.6,252.6L483.9,244.8L484.1,253.7L484.3,246.6L484.5,252.7L484.8,247.1L485.0,253.2L485.2,247.7L485.4,252.4L485.6,246.4L485.9,254.0L486.1,248.4L486.3,254.2L486.5,247.5L486.8,253.7L487.0,248.8L487.2,253.2L487.4,247.3L487.7,255.0L487.9,247.6L488.1,253.0L488.3,247.2L488.6,253.8L488.8,229.1L489.0,234.4L489.2,209.4L489.5,214.0L489.7,216.1L489.9,221.2L490.1,225.8L490.4,232.5L490.6,228.9L490.8,234.0L491.0,231.8L491.3,237.8L491.5,233.2L491.7,238.4L491.9,233.2L492.1,239.1L492.4,235.4L492.6,239.7L492.8,233.7L493.0,239.9L493.3,235.8L493.5,241.0L493.7,235.0L493.9,241.3L494.2,237.5L494.4,242.9L494.6,237.7L494.8,242.2L495.1,237.5L495.3,242.6L495.5,238.2L495.7,245.0L496.0,237.6L496.2,245.9L496.4,239.7L496.6,244.8L496.9,240.1L497.1,244.0L497.3,239.3L497.5,244.8L497.8,240.1L498.0,244.2L498.2,237.8L498.4,244.5L498.6,239.6L498.9,244.6L499.1,239.9L499.3,244.1L499.5,238.6L499.8,245.0L500.0,240.0L500.2,245.4L500.4,238.2L500.7,245.2L500.9,240.8L501.1,245.4L501.3,240.2L501.6,247.1L501.8,240.1L502.0,247.6L502.2,240.5L502.5,248.8L502.7,241.4L502.9,247.0L503.1,240.7L503.4,245.8L503.6,241.7L503.8,245.7L504.0,242.0L504.3,245.6L504.5,241.0L504.7,246.7L504.9,244.5L505.1,249.5L505.4,246.3L505.6,249.8L505.8,247.9L506.0,251.9L506.3,247.7L506.5,253.1L506.7,248.2L506.9,254.9L507.2,248.2L507.4,255.3L507.6,247.6L507.8,254.5L508.1,248.7L508.3,254.9L508.5,247.6L508.7,253.1L509.0,246.8L509.2,252.7L509.4,247.7L509.6,252.3L509.9,246.2L510.1,252.2L510.3,245.6L510.5,251.3L510.8,246.1L511.0,252.3L511.2,245.6L511.4,252.0L511.6,246.4L511.9,251.3L512.1,245.8L512.3,249.9L512.5,245.7L512.8,250.3L513.0,245.3L513.2,251.3L513.4,243.6L513.7,249.8L513.9,242.9L514.1,249.8L514.3,244.3L514.6,250.5L514.8,243.0L515.0,249.2L515.2,243.5L515.5,248.4L515.7,242.3L515.9,247.7L516.1,240.5L516.4,248.5L516.6,241.0L516.8,245.5L517.0,238.8L517.3,243.9L517.5,237.2L517.7,242.5L517.9,234.4L518.1,240.1L518.4,232.3L518.6,239.7L518.8,232.7L519.0,236.6L519.3,231.0L519.5,235.4L519.7,229.2L519.9,233.4L520.2,226.2L520.4,231.0L520.6,225.3L520.8,229.2L521.1,224.0L521.3,227.8L521.5,221.5L521.7,226.5L522.0,220.7L522.2,223.7L522.4,217.8L522.6,223.4L522.9,216.9L523.1,220.6L523.3,214.9L523.5,219.3L523.8,211.5L524.0,217.1L524.2,210.2L524.4,215.4L524.6,209.6L524.9,215.2L525.1,212.6L525.3,218.0L525.5,214.5L525.8,218.8L526.0,215.1L526.2,223.4L526.4,218.1L526.7,224.4L526.9,220.3L527.1,226.1L527.3,221.7L527.6,227.4L527.8,222.5L528.0,228.1L528.2,223.4L528.5,232.0L528.7,226.5L528.9,233.2L529.1,228.7L529.4,232.9L529.6,229.3L529.8,234.8L530.0,232.1L530.3,236.1L530.5,231.4L530.7,235.8L530.9,229.0L531.1,234.4L531.4,227.5L531.6,234.4L531.8,224.6L532.0,232.4L532.3,224.8L532.5,232.4L532.7,223.1L532.9,231.3L533.2,222.7L533.4,228.4L533.6,220.9L533.8,228.9L534.1,218.7L534.3,226.9L534.5,220.8L534.7,225.4L535.0,218.9L535.2,226.3L535.4,219.6L535.6,226.7L535.9,222.2L536.1,226.2L536.3,223.5L536.5,228.0L536.8,223.5L537.0,229.1L537.2,223.4L537.4,230.2L537.6,224.8L537.9,228.9L538.1,225.2L538.3,230.1L538.5,225.1L538.8,230.3L539.0,223.6L539.2,230.6L539.4,225.2L539.7,231.9L539.9,226.0L540.1,232.6L540.3,228.2L540.6,234.7L540.8,229.6L541.0,236.8L541.2,231.5L541.5,237.1L541.7,231.3L541.9,238.6L542.1,227.1L542.4,233.8L542.6,224.8L542.8,234.7L543.0,233.4L543.3,238.0L543.5,232.5L543.7,239.2L543.9,234.0L544.1,241.8L544.4,234.4L544.6,242.5L544.8,235.9L545.0,241.5" fill="none" stroke="#2b47ab" stroke-width="1.0" stroke-linejoin="round" clip-path="url(#c4)"/>
<path d="M363.2,243.6L363.3,226.8" fill="none" stroke="#2b47ab" stroke-width="1.1" stroke-linejoin="round"/>
<path d="M427.7,252.6L427.8,291.5" fill="none" stroke="#2b47ab" stroke-width="1.1" stroke-linejoin="round"/>
<path d="M542.3,234.6L542.4,224.2" fill="none" stroke="#2b47ab" stroke-width="1.1" stroke-linejoin="round"/>
<path d="M489.3,237.6L489.4,208.3" fill="none" stroke="#2b47ab" stroke-width="1.1" stroke-linejoin="round" stroke-dasharray="2.5,1.5"/>
<path d="M330.1,295.3L330.3,296.5L330.5,295.4L330.8,296.4L331.0,295.5L331.2,296.7L331.4,295.1L331.7,296.4L331.9,249.0L332.1,250.4L332.3,249.1L332.6,250.4L332.8,248.6L333.0,250.5L333.2,249.0L333.5,250.5L333.7,249.0L333.9,250.6L334.1,249.0L334.4,250.5L334.6,248.5L334.8,250.3L335.0,248.5L335.3,250.3L335.5,248.8L335.7,250.0L335.9,248.7L336.2,250.2L336.4,248.7L336.6,250.2L336.8,248.6L337.0,250.1L337.3,249.1L337.5,249.9L337.7,249.0L337.9,250.2L338.2,249.1L338.4,250.2L338.6,249.1L338.8,250.2L339.1,248.9L339.3,250.4L339.5,248.8L339.7,250.2L340.0,248.9L340.2,250.2L340.4,249.0L340.6,250.4L340.9,248.4L341.1,250.6L341.3,249.0L341.5,250.2L341.8,248.7L342.0,250.9L342.2,254.1L342.4,256.6L342.7,259.5L342.9,262.2L343.1,259.9L343.3,262.5L343.5,259.9L343.8,262.2L344.0,259.9L344.2,262.5L344.4,259.0L344.7,263.6L344.9,258.7L345.1,263.4L345.3,258.9L345.6,263.0L345.8,235.8L346.0,240.2L346.2,260.1L346.5,263.6L346.7,260.8L346.9,264.5L347.1,262.1L347.4,265.1L347.6,261.3L347.8,266.1L348.0,261.6L348.3,264.5L348.5,260.2L348.7,265.3L348.9,261.0L349.2,265.2L349.4,259.3L349.6,264.0L349.8,260.4L350.0,264.7L350.3,259.3L350.5,264.9L350.7,259.4L350.9,263.8L351.2,259.7L351.4,263.3L351.6,258.5L351.8,263.3L352.1,258.8L352.3,264.0L352.5,258.6L352.7,262.8L353.0,259.7L353.2,262.8L353.4,260.0L353.6,262.5L353.9,260.1L354.1,263.1L354.3,259.5L354.5,263.4L354.8,260.0L355.0,263.0L355.2,258.7L355.4,263.3L355.7,259.9L355.9,262.1L356.1,258.8L356.3,262.9L356.5,258.7L356.8,263.2L357.0,259.1L357.2,262.7L357.4,257.9L357.7,262.4L357.9,259.4L358.1,263.1L358.3,258.5L358.6,262.6L358.8,258.4L359.0,262.4L359.2,258.6L359.5,263.2L359.7,258.2L359.9,262.7L360.1,247.7L360.4,250.8L360.6,259.8L360.8,263.2L361.0,259.6L361.3,263.3L361.5,259.8L361.7,263.9L361.9,261.3L362.2,264.2L362.4,261.3L362.6,264.8L362.8,260.7L363.0,264.3L363.3,260.5L363.5,264.4L363.7,260.4L363.9,263.0L364.2,259.5L364.4,263.5L364.6,259.6L364.8,262.6L365.1,258.1L365.3,263.8L365.5,257.8L365.7,261.9L366.0,258.4L366.2,261.8L366.4,257.9L366.6,261.9L366.9,258.3L367.1,261.4L367.3,258.4L367.5,262.2L367.8,257.9L368.0,262.7L368.2,258.2L368.4,261.4L368.7,257.9L368.9,262.7L369.1,256.9L369.3,262.4L369.5,257.3L369.8,260.8L370.0,257.5L370.2,261.0L370.4,256.9L370.7,261.1L370.9,257.6L371.1,261.0L371.3,257.5L371.6,261.2L371.8,257.4L372.0,260.0L372.2,256.5L372.5,260.0L372.7,257.0L372.9,260.0L373.1,257.0L373.4,260.0L373.6,256.5L373.8,260.6L374.0,256.8L374.3,259.9L374.5,255.6L374.7,260.4L374.9,257.1L375.2,261.6L375.4,255.8L375.6,260.3L375.8,257.4L376.0,260.8L376.3,257.2L376.5,262.0L376.7,255.9L376.9,260.5L377.2,256.7L377.4,259.9L377.6,256.5L377.8,259.1L378.1,255.7L378.3,258.8L378.5,255.9L378.7,257.8L379.0,255.8L379.2,258.4L379.4,255.5L379.6,257.2L379.9,255.0L380.1,257.8L380.3,254.7L380.5,257.2L380.8,253.7L381.0,256.8L381.2,254.1L381.4,256.1L381.7,252.8L381.9,255.9L382.1,252.6L382.3,254.8L382.5,252.1L382.8,254.7L383.0,251.4L383.2,254.5L383.4,249.5L383.7,253.1L383.9,249.9L384.1,253.0L384.3,249.2L384.6,251.7L384.8,248.2L385.0,251.8L385.2,246.3L385.5,250.7L385.7,246.7L385.9,250.6L386.1,246.2L386.4,249.4L386.6,245.1L386.8,249.2L387.0,246.4L387.3,251.2L387.5,247.5L387.7,253.3L387.9,249.4L388.2,253.8L388.4,250.1L388.6,253.6L388.8,251.0L389.0,255.0L389.3,252.8L389.5,256.6L389.7,253.9L389.9,256.2L390.2,253.9L390.4,257.8L390.6,254.9L390.8,257.5L391.1,255.4L391.3,259.4L391.5,256.3L391.7,259.5L392.0,255.7L392.2,260.8L392.4,256.7L392.6,262.1L392.9,257.2L393.1,261.5L393.3,257.1L393.5,261.7L393.8,258.2L394.0,261.6L394.2,258.2L394.4,261.2L394.7,257.9L394.9,261.8L395.1,258.0L395.3,261.6L395.5,257.6L395.8,261.6L396.0,257.5L396.2,262.2L396.4,257.1L396.7,262.6L396.9,257.9L397.1,262.3L397.3,256.6L397.6,262.1L397.8,257.3L398.0,261.7L398.2,256.8L398.5,260.8L398.7,255.9L398.9,260.3L399.1,256.4L399.4,260.2L399.6,257.1L399.8,260.8L400.0,256.4L400.3,261.1L400.5,257.0L400.7,260.3L400.9,257.1L401.2,260.1L401.4,255.7L401.6,259.7L401.8,256.8L402.0,259.6L402.3,256.6L402.5,260.7L402.7,256.8L402.9,259.6L403.2,256.4L403.4,261.4L403.6,256.6L403.8,260.2L404.1,255.7L404.3,261.0L404.5,256.2L404.7,259.7L405.0,254.5L405.2,258.6L405.4,255.0L405.6,258.4L405.9,254.7L406.1,257.9L406.3,254.2L406.5,257.9L406.8,253.1L407.0,256.5L407.2,253.0L407.4,256.0L407.7,252.2L407.9,256.5L408.1,252.6L408.3,256.6L408.5,251.1L408.8,256.2L409.0,251.0L409.2,254.9L409.4,250.1L409.7,254.1L409.9,251.0L410.1,254.4L410.3,251.5L410.6,255.5L410.8,250.8L411.0,255.0L411.2,250.6L411.5,255.2L411.7,252.0L411.9,255.2L412.1,252.4L412.4,255.2L412.6,252.7L412.8,256.3L413.0,252.1L413.3,255.9L413.5,252.9L413.7,256.1L413.9,252.5L414.2,255.9L414.4,252.8L414.6,256.1L414.8,253.4L415.0,256.2L415.3,253.3L415.5,256.2L415.7,253.7L415.9,256.8L416.2,254.0L416.4,256.6L416.6,253.6L416.8,256.5L417.1,253.8L417.3,257.4L417.5,254.2L417.7,256.7L418.0,253.9L418.2,256.5L418.4,269.0L418.6,272.0L418.9,266.7L419.1,269.6L419.3,254.8L419.5,258.1L419.8,255.1L420.0,258.5L420.2,255.7L420.4,257.9L420.7,255.9L420.9,258.4L421.1,255.5L421.3,258.9L421.5,256.5L421.8,258.8L422.0,256.7L422.2,260.4L422.4,256.8L422.7,259.6L422.9,256.5L423.1,260.4L423.3,255.9L423.6,261.2L423.8,257.2L424.0,260.6L424.2,257.8L424.5,261.1L424.7,257.9L424.9,261.2L425.1,258.3L425.4,261.2L425.6,258.4L425.8,261.4L426.0,257.5L426.3,261.7L426.5,258.9L426.7,263.0L426.9,259.4L427.2,262.8L427.4,260.0L427.6,265.7L427.8,261.1L428.0,265.1L428.3,260.2L428.5,264.7L428.7,259.0L428.9,263.9L429.2,258.5L429.4,265.4L429.6,260.1L429.8,264.4L430.1,258.7L430.3,264.9L430.5,258.7L430.7,263.7L431.0,259.0L431.2,263.1L431.4,259.4L431.6,262.9L431.9,259.1L432.1,262.3L432.3,259.4L432.5,262.8L432.8,259.5L433.0,262.8L433.2,258.4L433.4,262.5L433.7,257.9L433.9,261.6L434.1,257.0L434.3,261.3L434.5,258.3L434.8,262.0L435.0,257.1L435.2,262.4L435.4,256.5L435.7,262.1L435.9,257.9L436.1,261.7L436.3,257.0L436.6,262.5L436.8,258.7L437.0,261.3L437.2,258.8L437.5,261.4L437.7,258.2L437.9,262.4L438.1,259.2L438.4,262.4L438.6,259.1L438.8,261.7L439.0,258.6L439.3,262.4L439.5,258.6L439.7,262.2L439.9,258.4L440.2,262.4L440.4,259.3L440.6,262.8L440.8,259.2L441.0,262.1L441.3,259.2L441.5,262.1L441.7,259.8L441.9,263.0L442.2,260.1L442.4,263.1L442.6,259.9L442.8,262.7L443.1,259.3L443.3,264.7L443.5,260.1L443.7,264.7L444.0,259.2L444.2,263.1L444.4,260.0L444.6,263.1L444.9,260.0L445.1,264.0L445.3,260.2L445.5,263.0L445.8,259.9L446.0,263.4L446.2,260.2L446.4,263.3L446.6,260.7L446.9,264.6L447.1,261.1L447.3,264.3L447.5,260.5L447.8,264.1L448.0,260.6L448.2,264.3L448.4,261.0L448.7,265.2L448.9,260.9L449.1,264.2L449.3,261.3L449.6,264.0L449.8,260.8L450.0,265.4L450.2,261.3L450.5,264.0L450.7,261.0L450.9,264.8L451.1,260.2L451.4,265.3L451.6,259.9L451.8,264.3L452.0,261.1L452.3,264.5L452.5,260.8L452.7,263.8L452.9,260.3L453.1,264.1L453.4,260.8L453.6,263.6L453.8,260.6L454.0,263.9L454.3,261.2L454.5,263.6L454.7,260.6L454.9,263.8L455.2,259.5L455.4,264.2L455.6,261.1L455.8,263.8L456.1,260.8L456.3,264.2L456.5,259.7L456.7,264.3L457.0,260.5L457.2,263.7L457.4,260.9L457.6,264.1L457.9,260.7L458.1,264.7L458.3,259.5L458.5,264.2L458.8,260.4L459.0,264.0L459.2,260.4L459.4,263.5L459.6,257.9L459.9,261.0L460.1,253.1L460.3,257.0L460.5,254.2L460.8,258.7L461.0,254.4L461.2,258.6L461.4,256.1L461.7,259.3L461.9,256.7L462.1,259.7L462.3,255.8L462.6,259.7L462.8,257.4L463.0,260.0L463.2,257.8L463.5,260.1L463.7,257.8L463.9,260.5L464.1,258.5L464.4,261.3L464.6,258.7L464.8,261.6L465.0,258.2L465.3,261.9L465.5,258.1L465.7,262.3L465.9,258.5L466.1,263.1L466.4,259.7L466.6,263.0L466.8,259.8L467.0,262.3L467.3,257.7L467.5,262.3L467.7,258.3L467.9,262.0L468.2,258.0L468.4,261.8L468.6,257.0L468.8,261.1L469.1,256.7L469.3,263.0L469.5,255.9L469.7,261.4L470.0,257.4L470.2,261.3L470.4,257.7L470.6,263.5L470.9,259.3L471.1,262.9L471.3,260.3L471.5,263.7L471.8,260.6L472.0,264.8L472.2,262.3L472.4,266.2L472.6,263.0L472.9,266.5L473.1,261.0L473.3,265.9L473.5,260.6L473.8,264.5L474.0,258.2L474.2,262.6L474.4,257.4L474.7,262.0L474.9,257.3L475.1,261.6L475.3,256.6L475.6,259.6L475.8,256.3L476.0,260.2L476.2,256.1L476.5,259.7L476.7,256.2L476.9,259.7L477.1,255.2L477.4,260.3L477.6,255.0L477.8,259.2L478.0,255.7L478.3,258.8L478.5,254.8L478.7,258.2L478.9,254.8L479.1,258.4L479.4,255.9L479.6,259.4L479.8,255.9L480.0,259.2L480.3,256.4L480.5,260.4L480.7,257.3L480.9,259.9L481.2,256.8L481.4,260.8L481.6,257.9L481.8,260.5L482.1,258.1L482.3,260.3L482.5,257.1L482.7,260.6L483.0,256.5L483.2,260.1L483.4,256.8L483.6,259.7L483.9,255.6L484.1,259.7L484.3,254.7L484.5,258.4L484.8,228.9L485.0,231.7L485.2,252.6L485.4,255.5L485.6,253.1L485.9,257.8L486.1,252.4L486.3,258.4L486.5,253.7L486.8,258.4L487.0,254.1L487.2,258.0L487.4,254.0L487.7,258.5L487.9,255.5L488.1,258.0L488.3,255.0L488.6,258.5L488.8,255.9L489.0,258.2L489.2,255.4L489.5,258.5L489.7,255.2L489.9,258.1L490.1,255.5L490.4,258.2L490.6,255.3L490.8,258.0L491.0,254.3L491.3,258.1L491.5,254.7L491.7,258.3L491.9,255.3L492.1,259.3L492.4,255.7L492.6,259.4L492.8,255.4L493.0,258.7L493.3,255.6L493.5,258.8L493.7,256.0L493.9,258.9L494.2,255.7L494.4,258.8L494.6,256.4L494.8,259.6L495.1,256.1L495.3,259.2L495.5,256.7L495.7,259.5L496.0,256.5L496.2,259.8L496.4,256.9L496.6,260.4L496.9,256.7L497.1,260.0L497.3,257.3L497.5,259.7L497.8,257.5L498.0,260.1L498.2,257.5L498.4,259.8L498.6,256.9L498.9,261.1L499.1,256.7L499.3,260.7L499.5,257.7L499.8,261.0L500.0,258.0L500.2,262.6L500.4,257.7L500.7,261.1L500.9,257.5L501.1,261.6L501.3,256.9L501.6,260.9L501.8,257.0L502.0,260.9L502.2,257.8L502.5,261.1L502.7,258.2L502.9,260.9L503.1,258.1L503.4,261.5L503.6,258.7L503.8,261.8L504.0,258.6L504.3,261.4L504.5,258.7L504.7,262.0L504.9,258.7L505.1,262.0L505.4,258.4L505.6,262.5L505.8,257.5L506.0,262.6L506.3,259.8L506.5,263.6L506.7,261.5L506.9,265.6L507.2,260.8L507.4,267.1L507.6,263.5L507.8,268.5L508.1,265.7L508.3,270.5L508.5,266.9L508.7,272.5L509.0,269.9L509.2,274.4L509.4,269.4L509.6,272.9L509.9,268.7L510.1,272.2L510.3,266.3L510.5,270.2L510.8,265.4L511.0,269.1L511.2,264.6L511.4,268.1L511.6,264.2L511.9,267.4L512.1,262.3L512.3,266.8L512.5,261.8L512.8,265.7L513.0,260.5L513.2,263.5L513.4,258.8L513.7,263.2L513.9,259.7L514.1,263.4L514.3,261.1L514.6,263.6L514.8,260.6L515.0,264.0L515.2,262.0L515.5,265.4L515.7,262.4L515.9,265.5L516.1,262.3L516.4,265.5L516.6,262.5L516.8,266.2L517.0,262.0L517.3,267.4L517.5,263.8L517.7,268.9L517.9,264.2L518.1,269.4L518.4,265.1L518.6,270.0L518.8,264.1L519.0,269.6L519.3,264.1L519.5,267.9L519.7,263.6L519.9,267.5L520.2,263.7L520.4,267.7L520.6,263.7L520.8,266.7L521.1,263.4L521.3,267.9L521.5,262.0L521.7,266.6L522.0,262.6L522.2,267.6L522.4,262.2L522.6,265.1L522.9,261.5L523.1,265.9L523.3,260.5L523.5,266.3L523.8,261.2L524.0,264.4L524.2,259.4L524.4,264.2L524.6,259.6L524.9,264.9L525.1,259.1L525.3,265.3L525.5,260.4L525.8,264.9L526.0,259.5L526.2,264.9L526.4,259.7L526.7,263.7L526.9,259.3L527.1,264.6L527.3,259.5L527.6,263.0L527.8,259.4L528.0,263.9L528.2,259.5L528.5,263.4L528.7,258.6L528.9,262.8L529.1,259.4L529.4,262.0L529.6,259.3L529.8,262.4L530.0,259.1L530.3,261.5L530.5,258.6L530.7,261.5L530.9,258.3L531.1,262.1L531.4,258.1L531.6,261.6L531.8,258.6L532.0,261.5L532.3,258.5L532.5,261.8L532.7,276.4L532.9,280.4L533.2,256.0L533.4,258.7L533.6,250.4L533.8,253.8L534.1,255.8L534.3,259.4L534.5,255.5L534.7,259.3L535.0,255.7L535.2,259.0L535.4,254.8L535.6,258.3L535.9,254.3L536.1,258.1L536.3,254.7L536.5,257.9L536.8,254.6L537.0,259.0L537.2,254.7L537.4,257.3L537.6,254.1L537.9,257.7L538.1,253.7L538.3,257.0L538.5,253.6L538.8,256.8L539.0,253.3L539.2,256.5L539.4,253.1L539.7,256.3L539.9,252.3L540.1,255.8L540.3,248.3L540.6,253.4L540.8,245.8L541.0,251.5L541.2,245.8L541.5,250.5L541.7,246.2L541.9,251.3L542.1,246.7L542.4,250.6L542.6,246.3L542.8,251.3L543.0,247.6L543.3,252.0L543.5,247.0L543.7,251.6L543.9,247.5L544.1,250.5L544.4,247.1L544.6,250.3L544.8,296.0L545.0,298.7" fill="none" stroke="#ed1c24" stroke-width="1.0" stroke-linejoin="round" clip-path="url(#c4)"/>
<path d="M345.9,261.6L345.9,232.5" fill="none" stroke="#ed1c24" stroke-width="1.0" stroke-linejoin="round"/>
<path d="M360.1,260.7L360.2,247.2" fill="none" stroke="#ed1c24" stroke-width="1.0" stroke-linejoin="round"/>
<path d="M418.6,257.1L418.6,282.5" fill="none" stroke="#ed1c24" stroke-width="1.0" stroke-linejoin="round"/>
<path d="M484.6,257.1L484.7,220.9" fill="none" stroke="#ed1c24" stroke-width="1.0" stroke-linejoin="round"/>
<path d="M532.7,260.1L532.8,279.5" fill="none" stroke="#ed1c24" stroke-width="1.0" stroke-linejoin="round"/>
<path d="M533.4,260.1L533.4,247.2" fill="none" stroke="#ed1c24" stroke-width="1.0" stroke-linejoin="round"/>
<path d="M426.9,297.30h42.4" stroke="#2b47ab" stroke-width="1.1" stroke-dasharray="6.2,3.5" fill="none"/>
<path d="M426.9,313.20h42.4" stroke="#ed1c24" stroke-width="1.1" fill="none"/>
<text x="473.0" y="302.1" class="lg">Origion</text>
<text x="473.0" y="318.0" class="lg">Optimization</text>
</svg>
</body></html>
